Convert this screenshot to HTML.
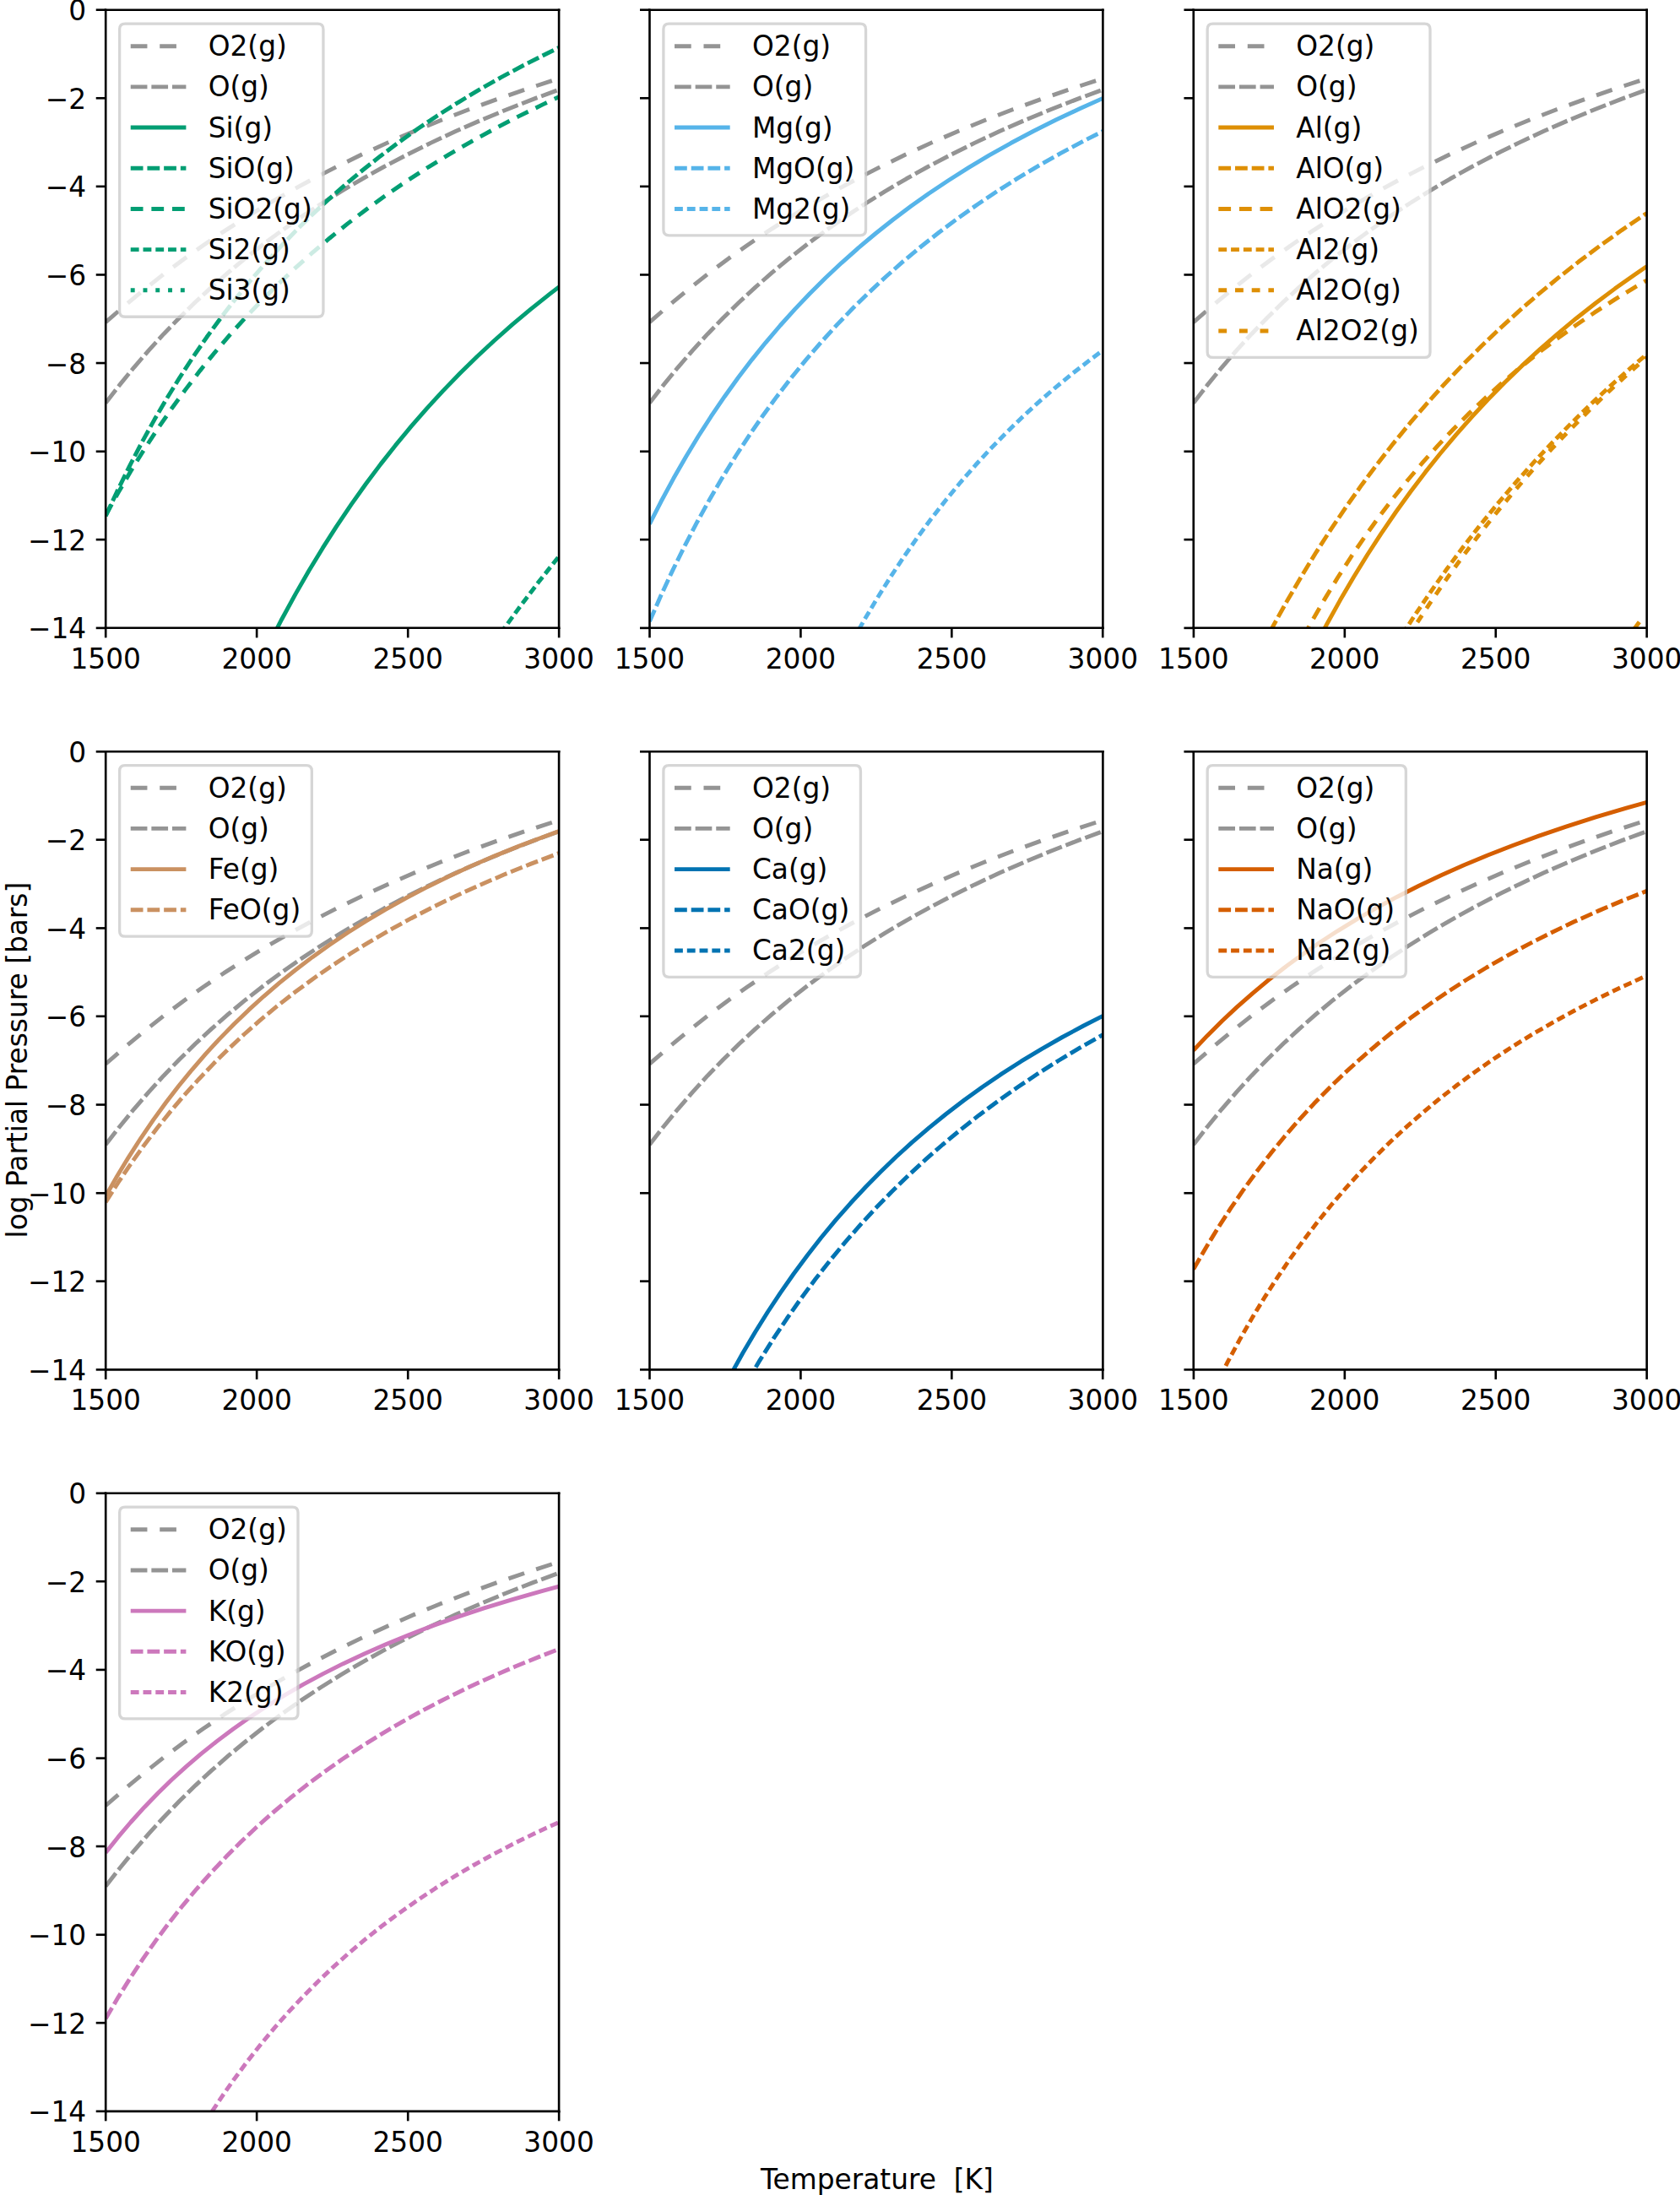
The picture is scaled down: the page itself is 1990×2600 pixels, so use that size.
<!DOCTYPE html>
<html><head><meta charset="utf-8"><title>Partial pressures</title>
<style>html,body{margin:0;padding:0;background:#fff;}svg{display:block;}text{white-space:pre;}</style>
</head><body>
<svg width="1990" height="2600" viewBox="0 0 606.184615 792">
  <defs>
  <style type="text/css">*{stroke-linejoin: round; stroke-linecap: butt}</style>
 </defs>
 <g id="figure_1">
  <g id="patch_1">
   <path d="M 0 792 L 606.184615 792 L 606.184615 0 L 0 0 z
" style="fill: #ffffff"/>
  </g>
  <g id="axes_1">
   <g id="patch_2">
    <path d="M 38.137846 226.572923 L 201.685846 226.572923 L 201.685846 3.564 L 38.137846 3.564 z
" style="fill: #ffffff"/>
   </g>
   <g id="matplotlib.axis_1">
    <g id="xtick_1">
     <g id="line2d_1">
            <g>
       <path d="M 38.14 226.6 L 38.14 230.1" style="stroke: #000000; stroke-width: 0.8"/>
      </g>
     </g>
     <g id="text_1">
      <text style="font-size: 10px; font-family: 'DejaVu Sans'; text-anchor: middle" x="38.137846" y="241.171361" transform="rotate(-0 38.137846 241.171361)">1500</text>
     </g>
    </g>
    <g id="xtick_2">
     <g id="line2d_2">
      <g>
       <path d="M 92.65 226.6 L 92.65 230.1" style="stroke: #000000; stroke-width: 0.8"/>
      </g>
     </g>
     <g id="text_2">
      <text style="font-size: 10px; font-family: 'DejaVu Sans'; text-anchor: middle" x="92.653846" y="241.171361" transform="rotate(-0 92.653846 241.171361)">2000</text>
     </g>
    </g>
    <g id="xtick_3">
     <g id="line2d_3">
      <g>
       <path d="M 147.2 226.6 L 147.2 230.1" style="stroke: #000000; stroke-width: 0.8"/>
      </g>
     </g>
     <g id="text_3">
      <text style="font-size: 10px; font-family: 'DejaVu Sans'; text-anchor: middle" x="147.169846" y="241.171361" transform="rotate(-0 147.169846 241.171361)">2500</text>
     </g>
    </g>
    <g id="xtick_4">
     <g id="line2d_4">
      <g>
       <path d="M 201.7 226.6 L 201.7 230.1" style="stroke: #000000; stroke-width: 0.8"/>
      </g>
     </g>
     <g id="text_4">
      <text style="font-size: 10px; font-family: 'DejaVu Sans'; text-anchor: middle" x="201.685846" y="241.171361" transform="rotate(-0 201.685846 241.171361)">3000</text>
     </g>
    </g>
   </g>
   <g id="matplotlib.axis_2">
    <g id="ytick_1">
     <g id="line2d_5">
            <g>
       <path d="M 38.14 226.6 L 34.64 226.6" style="stroke: #000000; stroke-width: 0.8"/>
      </g>
     </g>
     <g id="text_5">
      <text style="font-size: 10px; font-family: 'DejaVu Sans'; text-anchor: end" x="31.137846" y="230.372142" transform="rotate(-0 31.137846 230.372142)">−14</text>
     </g>
    </g>
    <g id="ytick_2">
     <g id="line2d_6">
      <g>
       <path d="M 38.14 194.7 L 34.64 194.7" style="stroke: #000000; stroke-width: 0.8"/>
      </g>
     </g>
     <g id="text_6">
      <text style="font-size: 10px; font-family: 'DejaVu Sans'; text-anchor: end" x="31.137846" y="198.513724" transform="rotate(-0 31.137846 198.513724)">−12</text>
     </g>
    </g>
    <g id="ytick_3">
     <g id="line2d_7">
      <g>
       <path d="M 38.14 162.9 L 34.64 162.9" style="stroke: #000000; stroke-width: 0.8"/>
      </g>
     </g>
     <g id="text_7">
      <text style="font-size: 10px; font-family: 'DejaVu Sans'; text-anchor: end" x="31.137846" y="166.655307" transform="rotate(-0 31.137846 166.655307)">−10</text>
     </g>
    </g>
    <g id="ytick_4">
     <g id="line2d_8">
      <g>
       <path d="M 38.14 131 L 34.64 131" style="stroke: #000000; stroke-width: 0.8"/>
      </g>
     </g>
     <g id="text_8">
      <text style="font-size: 10px; font-family: 'DejaVu Sans'; text-anchor: end" x="31.137846" y="134.796889" transform="rotate(-0 31.137846 134.796889)">−8</text>
     </g>
    </g>
    <g id="ytick_5">
     <g id="line2d_9">
      <g>
       <path d="M 38.14 99.14 L 34.64 99.14" style="stroke: #000000; stroke-width: 0.8"/>
      </g>
     </g>
     <g id="text_9">
      <text style="font-size: 10px; font-family: 'DejaVu Sans'; text-anchor: end" x="31.137846" y="102.938471" transform="rotate(-0 31.137846 102.938471)">−6</text>
     </g>
    </g>
    <g id="ytick_6">
     <g id="line2d_10">
      <g>
       <path d="M 38.14 67.28 L 34.64 67.28" style="stroke: #000000; stroke-width: 0.8"/>
      </g>
     </g>
     <g id="text_10">
      <text style="font-size: 10px; font-family: 'DejaVu Sans'; text-anchor: end" x="31.137846" y="71.080054" transform="rotate(-0 31.137846 71.080054)">−4</text>
     </g>
    </g>
    <g id="ytick_7">
     <g id="line2d_11">
      <g>
       <path d="M 38.14 35.42 L 34.64 35.42" style="stroke: #000000; stroke-width: 0.8"/>
      </g>
     </g>
     <g id="text_11">
      <text style="font-size: 10px; font-family: 'DejaVu Sans'; text-anchor: end" x="31.137846" y="39.221636" transform="rotate(-0 31.137846 39.221636)">−2</text>
     </g>
    </g>
    <g id="ytick_8">
     <g id="line2d_12">
      <g>
       <path d="M 38.14 3.564 L 34.64 3.564" style="stroke: #000000; stroke-width: 0.8"/>
      </g>
     </g>
     <g id="text_12">
      <text style="font-size: 10px; font-family: 'DejaVu Sans'; text-anchor: end" x="31.137846" y="7.363219" transform="rotate(-0 31.137846 7.363219)">0</text>
     </g>
    </g>
   </g>
   <g id="line2d_13">
    <path d="M 38.137846 116.271095 L 45.106057 110.198701 L 52.074267 104.427551 L 59.042478 98.94265 L 66.010688 93.728501 L 73.388794 88.485575 L 80.766899 83.510994 L 88.554899 78.532271 L 96.342899 73.814441 L 104.540794 69.110584 L 112.738688 64.656757 L 121.346478 60.229835 L 130.364162 55.846032 L 139.791741 51.519507 L 149.21932 47.434842 L 159.056794 43.410165 L 169.304162 39.455331 L 179.961425 35.578606 L 191.028583 31.786788 L 201.685846 28.342352 L 201.685846 28.342352 " clip-path="url(#p9adae56d40)" style="fill: none; stroke-dasharray: 6,4.5; stroke-dashoffset: 0; stroke: #949494; stroke-width: 1.5"/>
   </g>
   <g id="line2d_14">
    <path d="M 38.137846 145.396931 L 43.056583 139.032866 L 48.385215 132.514699 L 53.713846 126.35645 L 59.042478 120.529272 L 64.781004 114.594498 L 70.51953 108.984803 L 76.258057 103.674308 L 82.406478 98.290184 L 88.554899 93.197312 L 95.113215 88.060154 L 101.67153 83.203414 L 108.639741 78.325505 L 115.607951 73.71514 L 122.986057 69.101483 L 130.774057 64.505945 L 138.562057 60.16895 L 146.759951 55.859763 L 155.367741 51.59415 L 164.385425 47.385777 L 173.403109 43.421079 L 182.830688 39.514449 L 192.668162 35.675483 L 201.685846 32.351805 L 201.685846 32.351805 " clip-path="url(#p9adae56d40)" style="fill: none; stroke-dasharray: 6,1.5; stroke-dashoffset: 0; stroke: #949494; stroke-width: 1.5"/>
   </g>
   <g id="line2d_15">
    <path d="M 38.137846 407.383241 L 41.826899 391.593612 L 45.515951 376.691662 L 49.614899 361.091298 L 53.713846 346.416745 L 57.812794 332.591969 L 61.911741 319.548782 L 66.010688 307.225874 L 70.109636 295.567989 L 74.208583 284.525211 L 78.717425 273.034793 L 83.226267 262.179726 L 87.735109 251.911075 L 92.243951 242.184656 L 96.752794 232.960488 L 101.67153 223.428063 L 106.590267 214.407671 L 111.509004 205.860845 L 116.427741 197.75277 L 121.346478 190.05187 L 126.675109 182.135494 L 132.003741 174.630238 L 137.332372 167.506119 L 142.661004 160.735925 L 148.39953 153.812421 L 154.138057 147.242646 L 159.876583 141.001146 L 166.025004 134.651875 L 172.173425 128.62711 L 178.321846 122.903445 L 184.880162 117.106165 L 191.438478 111.603894 L 198.406688 106.057263 L 201.685846 103.547379 L 201.685846 103.547379 " clip-path="url(#p9adae56d40)" style="fill: none; stroke: #029e73; stroke-width: 1.5"/>
   </g>
   <g id="line2d_16">
    <path d="M 38.137846 186.195813 L 42.236794 177.346958 L 46.745636 168.164099 L 51.254478 159.510641 L 55.76332 151.342641 L 60.272162 143.620843 L 64.781004 136.310075 L 69.699741 128.766418 L 74.618478 121.637565 L 79.537215 114.890572 L 84.865846 107.978019 L 90.194478 101.445252 L 95.523109 95.262102 L 100.851741 89.401488 L 106.590267 83.422858 L 112.328794 77.762689 L 118.477215 72.023745 L 124.625636 66.595077 L 130.774057 61.452378 L 137.332372 56.257453 L 143.890688 51.33924 L 150.858899 46.39295 L 157.827109 41.711906 L 165.205215 37.021708 L 172.993215 32.344222 L 180.781215 27.924735 L 188.979109 23.528694 L 197.586899 19.172377 L 201.685846 17.184969 L 201.685846 17.184969 " clip-path="url(#p9adae56d40)" style="fill: none; stroke-dasharray: 4.5,1.5; stroke-dashoffset: 0; stroke: #029e73; stroke-width: 1.5"/>
   </g>
   <g id="line2d_17">
    <path d="M 38.137846 185.893796 L 42.646688 177.759513 L 47.15553 170.054096 L 52.074267 162.098568 L 56.993004 154.575731 L 61.911741 147.451222 L 66.830478 140.694222 L 72.159109 133.756779 L 77.487741 127.186502 L 82.816372 120.954997 L 88.554899 114.593767 L 94.293425 108.56718 L 100.031951 102.849508 L 106.180372 97.03997 L 112.328794 91.532882 L 118.887109 85.966132 L 125.445425 80.692253 L 132.413636 75.384507 L 139.381846 70.357753 L 146.759951 65.317458 L 154.138057 60.544696 L 161.926057 55.774128 L 170.123951 51.025534 L 178.321846 46.534585 L 186.929636 42.074072 L 195.94732 37.658689 L 201.685846 34.976259 L 201.685846 34.976259 " clip-path="url(#p9adae56d40)" style="fill: none; stroke-dasharray: 4.5,3; stroke-dashoffset: 0; stroke: #029e73; stroke-width: 1.5"/>
   </g>
   <g id="line2d_18">
    <path d="M 38.137846 604.702939 L 42.646688 583.026828 L 47.15553 562.483435 L 51.664372 542.986234 L 56.173215 524.45729 L 60.682057 506.826226 L 65.190899 490.029319 L 70.109636 472.588962 L 75.028372 456.004575 L 79.947109 440.214648 L 84.865846 425.163432 L 89.784583 410.800272 L 94.70332 397.07904 L 100.031951 382.890039 L 105.360583 369.356303 L 110.689215 356.433465 L 116.017846 344.081075 L 121.346478 332.262176 L 127.085004 320.092017 L 132.82353 308.462753 L 138.562057 297.33911 L 144.300583 286.688813 L 150.039109 276.482278 L 156.18753 266.008324 L 162.335951 255.981974 L 168.484372 246.375137 L 174.632794 237.162023 L 181.191109 227.741983 L 187.749425 218.7165 L 194.307741 210.061293 L 201.275951 201.245905 L 201.685846 200.739049 L 201.685846 200.739049 " clip-path="url(#p9adae56d40)" style="fill: none; stroke-dasharray: 3,1.5; stroke-dashoffset: 0; stroke: #029e73; stroke-width: 1.5"/>
   </g>
   <g id="line2d_19">
    <path d="M 38.137846 640.732352 L 201.685846 640.732352 L 201.685846 640.732352 " clip-path="url(#p9adae56d40)" style="fill: none; stroke-dasharray: 1.5,3; stroke-dashoffset: 0; stroke: #029e73; stroke-width: 1.5"/>
   </g>
   <g id="patch_3">
    <path d="M 38.137846 226.572923 L 38.137846 3.564 " style="fill: none; stroke: #000000; stroke-width: 0.8; stroke-linejoin: miter; stroke-linecap: square"/>
   </g>
   <g id="patch_4">
    <path d="M 201.685846 226.572923 L 201.685846 3.564 " style="fill: none; stroke: #000000; stroke-width: 0.8; stroke-linejoin: miter; stroke-linecap: square"/>
   </g>
   <g id="patch_5">
    <path d="M 38.137846 226.572923 L 201.685846 226.572923 " style="fill: none; stroke: #000000; stroke-width: 0.8; stroke-linejoin: miter; stroke-linecap: square"/>
   </g>
   <g id="patch_6">
    <path d="M 38.137846 3.564 L 201.685846 3.564 " style="fill: none; stroke: #000000; stroke-width: 0.8; stroke-linejoin: miter; stroke-linecap: square"/>
   </g>
   <g id="legend_1">
    <g id="patch_7">
     <path d="M 45.137846 114.310875 L 114.650346 114.310875 Q 116.650346 114.310875 116.650346 112.310875 L 116.650346 10.564 Q 116.650346 8.564 114.650346 8.564 L 45.137846 8.564 Q 43.137846 8.564 43.137846 10.564 L 43.137846 112.310875 Q 43.137846 114.310875 45.137846 114.310875 z
" style="fill: #ffffff; opacity: 0.8; stroke: #cccccc; stroke-linejoin: miter"/>
    </g>
    <g id="line2d_20">
     <path d="M 47.137846 16.662438 L 57.137846 16.662438 L 67.137846 16.662438 " style="fill: none; stroke-dasharray: 6,4.5; stroke-dashoffset: 0; stroke: #949494; stroke-width: 1.5"/>
    </g>
    <g id="text_13">
     <text style="font-size: 10px; font-family: 'DejaVu Sans'; text-anchor: start" x="75.137846" y="20.162438" transform="rotate(-0 75.137846 20.162438)">O2(g)</text>
    </g>
    <g id="line2d_21">
     <path d="M 47.137846 31.340563 L 57.137846 31.340563 L 67.137846 31.340563 " style="fill: none; stroke-dasharray: 6,1.5; stroke-dashoffset: 0; stroke: #949494; stroke-width: 1.5"/>
    </g>
    <g id="text_14">
     <text style="font-size: 10px; font-family: 'DejaVu Sans'; text-anchor: start" x="75.137846" y="34.840563" transform="rotate(-0 75.137846 34.840563)">O(g)</text>
    </g>
    <g id="line2d_22">
     <path d="M 47.137846 46.018688 L 57.137846 46.018688 L 67.137846 46.018688 " style="fill: none; stroke: #029e73; stroke-width: 1.5"/>
    </g>
    <g id="text_15">
     <text style="font-size: 10px; font-family: 'DejaVu Sans'; text-anchor: start" x="75.137846" y="49.518688" transform="rotate(-0 75.137846 49.518688)">Si(g)</text>
    </g>
    <g id="line2d_23">
     <path d="M 47.137846 60.696813 L 57.137846 60.696813 L 67.137846 60.696813 " style="fill: none; stroke-dasharray: 4.5,1.5; stroke-dashoffset: 0; stroke: #029e73; stroke-width: 1.5"/>
    </g>
    <g id="text_16">
     <text style="font-size: 10px; font-family: 'DejaVu Sans'; text-anchor: start" x="75.137846" y="64.196813" transform="rotate(-0 75.137846 64.196813)">SiO(g)</text>
    </g>
    <g id="line2d_24">
     <path d="M 47.137846 75.374938 L 57.137846 75.374938 L 67.137846 75.374938 " style="fill: none; stroke-dasharray: 4.5,3; stroke-dashoffset: 0; stroke: #029e73; stroke-width: 1.5"/>
    </g>
    <g id="text_17">
     <text style="font-size: 10px; font-family: 'DejaVu Sans'; text-anchor: start" x="75.137846" y="78.874938" transform="rotate(-0 75.137846 78.874938)">SiO2(g)</text>
    </g>
    <g id="line2d_25">
     <path d="M 47.137846 90.053063 L 57.137846 90.053063 L 67.137846 90.053063 " style="fill: none; stroke-dasharray: 3,1.5; stroke-dashoffset: 0; stroke: #029e73; stroke-width: 1.5"/>
    </g>
    <g id="text_18">
     <text style="font-size: 10px; font-family: 'DejaVu Sans'; text-anchor: start" x="75.137846" y="93.553063" transform="rotate(-0 75.137846 93.553063)">Si2(g)</text>
    </g>
    <g id="line2d_26">
     <path d="M 47.137846 104.731188 L 57.137846 104.731188 L 67.137846 104.731188 " style="fill: none; stroke-dasharray: 1.5,3; stroke-dashoffset: 0; stroke: #029e73; stroke-width: 1.5"/>
    </g>
    <g id="text_19">
     <text style="font-size: 10px; font-family: 'DejaVu Sans'; text-anchor: start" x="75.137846" y="108.231188" transform="rotate(-0 75.137846 108.231188)">Si3(g)</text>
    </g>
   </g>
  </g>
  <g id="axes_2">
   <g id="patch_8">
    <path d="M 234.395446 226.572923 L 397.943446 226.572923 L 397.943446 3.564 L 234.395446 3.564 z
" style="fill: #ffffff"/>
   </g>
   <g id="matplotlib.axis_3">
    <g id="xtick_5">
     <g id="line2d_27">
      <g>
       <path d="M 234.4 226.6 L 234.4 230.1" style="stroke: #000000; stroke-width: 0.8"/>
      </g>
     </g>
     <g id="text_20">
      <text style="font-size: 10px; font-family: 'DejaVu Sans'; text-anchor: middle" x="234.395446" y="241.171361" transform="rotate(-0 234.395446 241.171361)">1500</text>
     </g>
    </g>
    <g id="xtick_6">
     <g id="line2d_28">
      <g>
       <path d="M 288.9 226.6 L 288.9 230.1" style="stroke: #000000; stroke-width: 0.8"/>
      </g>
     </g>
     <g id="text_21">
      <text style="font-size: 10px; font-family: 'DejaVu Sans'; text-anchor: middle" x="288.911446" y="241.171361" transform="rotate(-0 288.911446 241.171361)">2000</text>
     </g>
    </g>
    <g id="xtick_7">
     <g id="line2d_29">
      <g>
       <path d="M 343.4 226.6 L 343.4 230.1" style="stroke: #000000; stroke-width: 0.8"/>
      </g>
     </g>
     <g id="text_22">
      <text style="font-size: 10px; font-family: 'DejaVu Sans'; text-anchor: middle" x="343.427446" y="241.171361" transform="rotate(-0 343.427446 241.171361)">2500</text>
     </g>
    </g>
    <g id="xtick_8">
     <g id="line2d_30">
      <g>
       <path d="M 397.9 226.6 L 397.9 230.1" style="stroke: #000000; stroke-width: 0.8"/>
      </g>
     </g>
     <g id="text_23">
      <text style="font-size: 10px; font-family: 'DejaVu Sans'; text-anchor: middle" x="397.943446" y="241.171361" transform="rotate(-0 397.943446 241.171361)">3000</text>
     </g>
    </g>
   </g>
   <g id="matplotlib.axis_4">
    <g id="ytick_9">
     <g id="line2d_31">
      <g>
       <path d="M 234.4 226.6 L 230.9 226.6" style="stroke: #000000; stroke-width: 0.8"/>
      </g>
     </g>
    </g>
    <g id="ytick_10">
     <g id="line2d_32">
      <g>
       <path d="M 234.4 194.7 L 230.9 194.7" style="stroke: #000000; stroke-width: 0.8"/>
      </g>
     </g>
    </g>
    <g id="ytick_11">
     <g id="line2d_33">
      <g>
       <path d="M 234.4 162.9 L 230.9 162.9" style="stroke: #000000; stroke-width: 0.8"/>
      </g>
     </g>
    </g>
    <g id="ytick_12">
     <g id="line2d_34">
      <g>
       <path d="M 234.4 131 L 230.9 131" style="stroke: #000000; stroke-width: 0.8"/>
      </g>
     </g>
    </g>
    <g id="ytick_13">
     <g id="line2d_35">
      <g>
       <path d="M 234.4 99.14 L 230.9 99.14" style="stroke: #000000; stroke-width: 0.8"/>
      </g>
     </g>
    </g>
    <g id="ytick_14">
     <g id="line2d_36">
      <g>
       <path d="M 234.4 67.28 L 230.9 67.28" style="stroke: #000000; stroke-width: 0.8"/>
      </g>
     </g>
    </g>
    <g id="ytick_15">
     <g id="line2d_37">
      <g>
       <path d="M 234.4 35.42 L 230.9 35.42" style="stroke: #000000; stroke-width: 0.8"/>
      </g>
     </g>
    </g>
    <g id="ytick_16">
     <g id="line2d_38">
      <g>
       <path d="M 234.4 3.564 L 230.9 3.564" style="stroke: #000000; stroke-width: 0.8"/>
      </g>
     </g>
    </g>
   </g>
   <g id="line2d_39">
    <path d="M 234.395446 116.271095 L 241.363657 110.198701 L 248.331867 104.427551 L 255.300078 98.94265 L 262.268288 93.728501 L 269.646394 88.485575 L 277.024499 83.510994 L 284.812499 78.532271 L 292.600499 73.814441 L 300.798394 69.110584 L 308.996288 64.656757 L 317.604078 60.229835 L 326.621762 55.846032 L 336.049341 51.519507 L 345.47692 47.434842 L 355.314394 43.410165 L 365.561762 39.455331 L 376.219025 35.578606 L 387.286183 31.786788 L 397.943446 28.342352 L 397.943446 28.342352 " clip-path="url(#p2d5f1d068a)" style="fill: none; stroke-dasharray: 6,4.5; stroke-dashoffset: 0; stroke: #949494; stroke-width: 1.5"/>
   </g>
   <g id="line2d_40">
    <path d="M 234.395446 145.396931 L 239.314183 139.032866 L 244.642815 132.514699 L 249.971446 126.35645 L 255.300078 120.529272 L 261.038604 114.594498 L 266.77713 108.984803 L 272.515657 103.674308 L 278.664078 98.290184 L 284.812499 93.197312 L 291.370815 88.060154 L 297.92913 83.203414 L 304.897341 78.325505 L 311.865551 73.71514 L 319.243657 69.101483 L 327.031657 64.505945 L 334.819657 60.16895 L 343.017551 55.859763 L 351.625341 51.59415 L 360.643025 47.385777 L 369.660709 43.421079 L 379.088288 39.514449 L 388.925762 35.675483 L 397.943446 32.351805 L 397.943446 32.351805 " clip-path="url(#p2d5f1d068a)" style="fill: none; stroke-dasharray: 6,1.5; stroke-dashoffset: 0; stroke: #949494; stroke-width: 1.5"/>
   </g>
   <g id="line2d_41">
    <path d="M 234.395446 189.081007 L 238.494394 181.021313 L 243.003236 172.659183 L 247.512078 164.780831 L 252.02092 157.345991 L 256.529762 150.318705 L 261.448499 143.079624 L 266.367236 136.24989 L 271.285972 129.796127 L 276.204709 123.688461 L 281.533341 117.431343 L 286.861972 111.51841 L 292.190604 105.922301 L 297.92913 100.221931 L 303.667657 94.83306 L 309.816078 89.37701 L 315.964499 84.223206 L 322.11292 79.347418 L 328.671236 74.428576 L 335.229551 69.777735 L 342.197762 65.106236 L 349.575867 60.438488 L 356.953972 56.033668 L 364.741972 51.645701 L 372.939867 47.292752 L 381.137762 43.189649 L 389.745551 39.127576 L 397.943446 35.474116 L 397.943446 35.474116 " clip-path="url(#p2d5f1d068a)" style="fill: none; stroke: #56b4e9; stroke-width: 1.5"/>
   </g>
   <g id="line2d_42">
    <path d="M 234.395446 224.179426 L 238.494394 214.851599 L 242.593341 206.034098 L 247.102183 196.8765 L 251.611025 188.240135 L 256.119867 180.082362 L 260.628709 172.365017 L 265.547446 164.408245 L 270.466183 156.895073 L 275.38492 149.789872 L 280.303657 143.060695 L 285.632288 136.161833 L 290.96092 129.637807 L 296.289551 123.459211 L 302.028078 117.161386 L 307.766604 111.203913 L 313.50513 105.560202 L 319.653551 99.834431 L 325.801972 94.415 L 332.360288 88.945246 L 338.918604 83.77125 L 345.47692 78.869855 L 352.44513 73.937567 L 359.823236 69.000089 L 367.201341 64.332323 L 374.989341 59.674282 L 382.777341 55.270505 L 390.975236 50.887545 L 397.943446 47.35026 L 397.943446 47.35026 " clip-path="url(#p2d5f1d068a)" style="fill: none; stroke-dasharray: 4.5,1.5; stroke-dashoffset: 0; stroke: #56b4e9; stroke-width: 1.5"/>
   </g>
   <g id="line2d_43">
    <path d="M 234.395446 461.83172 L 238.084499 442.893788 L 241.773551 425.131131 L 245.462604 408.447062 L 249.151657 392.754692 L 252.840709 377.975763 L 256.529762 364.039635 L 260.628709 349.466005 L 264.727657 335.775081 L 268.826604 322.895827 L 272.925551 310.764259 L 277.024499 299.32262 L 281.123446 288.518661 L 285.222394 278.305023 L 289.321341 268.638695 L 293.830183 258.591275 L 298.339025 249.111544 L 302.847867 240.156718 L 307.356709 231.688 L 311.865551 223.670141 L 316.374394 216.071056 L 321.29313 208.224444 L 326.211867 200.806871 L 331.130604 193.786965 L 336.049341 187.136191 L 341.377972 180.317645 L 346.706604 173.871786 L 352.035236 167.771331 L 357.363867 161.991472 L 363.102394 156.09967 L 368.84092 150.527832 L 374.579446 145.252649 L 380.727867 139.905812 L 386.876288 134.851514 L 393.434604 129.758525 L 397.943446 126.423623 L 397.943446 126.423623 " clip-path="url(#p2d5f1d068a)" style="fill: none; stroke-dasharray: 3,1.5; stroke-dashoffset: 0; stroke: #56b4e9; stroke-width: 1.5"/>
   </g>
   <g id="patch_9">
    <path d="M 234.395446 226.572923 L 234.395446 3.564 " style="fill: none; stroke: #000000; stroke-width: 0.8; stroke-linejoin: miter; stroke-linecap: square"/>
   </g>
   <g id="patch_10">
    <path d="M 397.943446 226.572923 L 397.943446 3.564 " style="fill: none; stroke: #000000; stroke-width: 0.8; stroke-linejoin: miter; stroke-linecap: square"/>
   </g>
   <g id="patch_11">
    <path d="M 234.395446 226.572923 L 397.943446 226.572923 " style="fill: none; stroke: #000000; stroke-width: 0.8; stroke-linejoin: miter; stroke-linecap: square"/>
   </g>
   <g id="patch_12">
    <path d="M 234.395446 3.564 L 397.943446 3.564 " style="fill: none; stroke: #000000; stroke-width: 0.8; stroke-linejoin: miter; stroke-linecap: square"/>
   </g>
   <g id="legend_2">
    <g id="patch_13">
     <path d="M 241.395446 84.954625 L 310.395446 84.954625 Q 312.395446 84.954625 312.395446 82.954625 L 312.395446 10.564 Q 312.395446 8.564 310.395446 8.564 L 241.395446 8.564 Q 239.395446 8.564 239.395446 10.564 L 239.395446 82.954625 Q 239.395446 84.954625 241.395446 84.954625 z
" style="fill: #ffffff; opacity: 0.8; stroke: #cccccc; stroke-linejoin: miter"/>
    </g>
    <g id="line2d_44">
     <path d="M 243.395446 16.662438 L 253.395446 16.662438 L 263.395446 16.662438 " style="fill: none; stroke-dasharray: 6,4.5; stroke-dashoffset: 0; stroke: #949494; stroke-width: 1.5"/>
    </g>
    <g id="text_24">
     <text style="font-size: 10px; font-family: 'DejaVu Sans'; text-anchor: start" x="271.395446" y="20.162438" transform="rotate(-0 271.395446 20.162438)">O2(g)</text>
    </g>
    <g id="line2d_45">
     <path d="M 243.395446 31.340563 L 253.395446 31.340563 L 263.395446 31.340563 " style="fill: none; stroke-dasharray: 6,1.5; stroke-dashoffset: 0; stroke: #949494; stroke-width: 1.5"/>
    </g>
    <g id="text_25">
     <text style="font-size: 10px; font-family: 'DejaVu Sans'; text-anchor: start" x="271.395446" y="34.840563" transform="rotate(-0 271.395446 34.840563)">O(g)</text>
    </g>
    <g id="line2d_46">
     <path d="M 243.395446 46.018688 L 253.395446 46.018688 L 263.395446 46.018688 " style="fill: none; stroke: #56b4e9; stroke-width: 1.5"/>
    </g>
    <g id="text_26">
     <text style="font-size: 10px; font-family: 'DejaVu Sans'; text-anchor: start" x="271.395446" y="49.518688" transform="rotate(-0 271.395446 49.518688)">Mg(g)</text>
    </g>
    <g id="line2d_47">
     <path d="M 243.395446 60.696813 L 253.395446 60.696813 L 263.395446 60.696813 " style="fill: none; stroke-dasharray: 4.5,1.5; stroke-dashoffset: 0; stroke: #56b4e9; stroke-width: 1.5"/>
    </g>
    <g id="text_27">
     <text style="font-size: 10px; font-family: 'DejaVu Sans'; text-anchor: start" x="271.395446" y="64.196813" transform="rotate(-0 271.395446 64.196813)">MgO(g)</text>
    </g>
    <g id="line2d_48">
     <path d="M 243.395446 75.374938 L 253.395446 75.374938 L 263.395446 75.374938 " style="fill: none; stroke-dasharray: 3,1.5; stroke-dashoffset: 0; stroke: #56b4e9; stroke-width: 1.5"/>
    </g>
    <g id="text_28">
     <text style="font-size: 10px; font-family: 'DejaVu Sans'; text-anchor: start" x="271.395446" y="78.874938" transform="rotate(-0 271.395446 78.874938)">Mg2(g)</text>
    </g>
   </g>
  </g>
  <g id="axes_3">
   <g id="patch_14">
    <path d="M 430.653046 226.572923 L 594.201046 226.572923 L 594.201046 3.564 L 430.653046 3.564 z
" style="fill: #ffffff"/>
   </g>
   <g id="matplotlib.axis_5">
    <g id="xtick_9">
     <g id="line2d_49">
      <g>
       <path d="M 430.7 226.6 L 430.7 230.1" style="stroke: #000000; stroke-width: 0.8"/>
      </g>
     </g>
     <g id="text_29">
      <text style="font-size: 10px; font-family: 'DejaVu Sans'; text-anchor: middle" x="430.653046" y="241.171361" transform="rotate(-0 430.653046 241.171361)">1500</text>
     </g>
    </g>
    <g id="xtick_10">
     <g id="line2d_50">
      <g>
       <path d="M 485.2 226.6 L 485.2 230.1" style="stroke: #000000; stroke-width: 0.8"/>
      </g>
     </g>
     <g id="text_30">
      <text style="font-size: 10px; font-family: 'DejaVu Sans'; text-anchor: middle" x="485.169046" y="241.171361" transform="rotate(-0 485.169046 241.171361)">2000</text>
     </g>
    </g>
    <g id="xtick_11">
     <g id="line2d_51">
      <g>
       <path d="M 539.7 226.6 L 539.7 230.1" style="stroke: #000000; stroke-width: 0.8"/>
      </g>
     </g>
     <g id="text_31">
      <text style="font-size: 10px; font-family: 'DejaVu Sans'; text-anchor: middle" x="539.685046" y="241.171361" transform="rotate(-0 539.685046 241.171361)">2500</text>
     </g>
    </g>
    <g id="xtick_12">
     <g id="line2d_52">
      <g>
       <path d="M 594.2 226.6 L 594.2 230.1" style="stroke: #000000; stroke-width: 0.8"/>
      </g>
     </g>
     <g id="text_32">
      <text style="font-size: 10px; font-family: 'DejaVu Sans'; text-anchor: middle" x="594.201046" y="241.171361" transform="rotate(-0 594.201046 241.171361)">3000</text>
     </g>
    </g>
   </g>
   <g id="matplotlib.axis_6">
    <g id="ytick_17">
     <g id="line2d_53">
      <g>
       <path d="M 430.7 226.6 L 427.2 226.6" style="stroke: #000000; stroke-width: 0.8"/>
      </g>
     </g>
    </g>
    <g id="ytick_18">
     <g id="line2d_54">
      <g>
       <path d="M 430.7 194.7 L 427.2 194.7" style="stroke: #000000; stroke-width: 0.8"/>
      </g>
     </g>
    </g>
    <g id="ytick_19">
     <g id="line2d_55">
      <g>
       <path d="M 430.7 162.9 L 427.2 162.9" style="stroke: #000000; stroke-width: 0.8"/>
      </g>
     </g>
    </g>
    <g id="ytick_20">
     <g id="line2d_56">
      <g>
       <path d="M 430.7 131 L 427.2 131" style="stroke: #000000; stroke-width: 0.8"/>
      </g>
     </g>
    </g>
    <g id="ytick_21">
     <g id="line2d_57">
      <g>
       <path d="M 430.7 99.14 L 427.2 99.14" style="stroke: #000000; stroke-width: 0.8"/>
      </g>
     </g>
    </g>
    <g id="ytick_22">
     <g id="line2d_58">
      <g>
       <path d="M 430.7 67.28 L 427.2 67.28" style="stroke: #000000; stroke-width: 0.8"/>
      </g>
     </g>
    </g>
    <g id="ytick_23">
     <g id="line2d_59">
      <g>
       <path d="M 430.7 35.42 L 427.2 35.42" style="stroke: #000000; stroke-width: 0.8"/>
      </g>
     </g>
    </g>
    <g id="ytick_24">
     <g id="line2d_60">
      <g>
       <path d="M 430.7 3.564 L 427.2 3.564" style="stroke: #000000; stroke-width: 0.8"/>
      </g>
     </g>
    </g>
   </g>
   <g id="line2d_61">
    <path d="M 430.653046 116.271095 L 437.621257 110.198701 L 444.589467 104.427551 L 451.557678 98.94265 L 458.525888 93.728501 L 465.903994 88.485575 L 473.282099 83.510994 L 481.070099 78.532271 L 488.858099 73.814441 L 497.055994 69.110584 L 505.253888 64.656757 L 513.861678 60.229835 L 522.879362 55.846032 L 532.306941 51.519507 L 541.73452 47.434842 L 551.571994 43.410165 L 561.819362 39.455331 L 572.476625 35.578606 L 583.543783 31.786788 L 594.201046 28.342352 L 594.201046 28.342352 " clip-path="url(#pf8652af135)" style="fill: none; stroke-dasharray: 6,4.5; stroke-dashoffset: 0; stroke: #949494; stroke-width: 1.5"/>
   </g>
   <g id="line2d_62">
    <path d="M 430.653046 145.396931 L 435.571783 139.032866 L 440.900415 132.514699 L 446.229046 126.35645 L 451.557678 120.529272 L 457.296204 114.594498 L 463.03473 108.984803 L 468.773257 103.674308 L 474.921678 98.290184 L 481.070099 93.197312 L 487.628415 88.060154 L 494.18673 83.203414 L 501.154941 78.325505 L 508.123151 73.71514 L 515.501257 69.101483 L 523.289257 64.505945 L 531.077257 60.16895 L 539.275151 55.859763 L 547.882941 51.59415 L 556.900625 47.385777 L 565.918309 43.421079 L 575.345888 39.514449 L 585.183362 35.675483 L 594.201046 32.351805 L 594.201046 32.351805 " clip-path="url(#pf8652af135)" style="fill: none; stroke-dasharray: 6,1.5; stroke-dashoffset: 0; stroke: #949494; stroke-width: 1.5"/>
   </g>
   <g id="line2d_63">
    <path d="M 430.653046 347.068423 L 434.751994 333.338799 L 438.850941 320.403846 L 442.949888 308.198477 L 447.048836 296.664383 L 451.147783 285.749186 L 455.656625 274.401134 L 460.165467 263.688548 L 464.674309 253.560869 L 469.183151 243.972666 L 473.691994 234.883009 L 478.61073 225.492272 L 483.529467 216.607663 L 488.448204 208.190274 L 493.366941 200.205018 L 498.285678 192.620179 L 503.614309 184.821866 L 508.942941 177.426755 L 514.271572 170.404999 L 519.600204 163.729585 L 525.33873 156.899943 L 531.077257 150.415849 L 536.815783 144.25221 L 542.964204 137.97811 L 549.112625 132.020435 L 555.670941 125.988548 L 562.229257 120.26544 L 568.787572 114.828378 L 575.755783 109.341932 L 582.723994 104.13285 L 590.102099 98.897251 L 594.201046 96.105107 L 594.201046 96.105107 " clip-path="url(#pf8652af135)" style="fill: none; stroke: #de8f05; stroke-width: 1.5"/>
   </g>
   <g id="line2d_64">
    <path d="M 430.653046 287.805053 L 435.161888 276.754407 L 439.67073 266.253437 L 444.589467 255.377931 L 449.508204 245.062402 L 454.426941 235.264776 L 459.345678 225.947082 L 464.264415 217.074965 L 469.593046 207.930256 L 474.921678 199.23608 L 480.250309 190.959993 L 485.578941 183.07259 L 491.317467 174.982556 L 497.055994 167.282078 L 502.79452 159.943713 L 508.942941 152.454744 L 515.091362 145.32506 L 521.239783 138.529441 L 527.798099 131.623209 L 534.356415 125.045763 L 540.91473 118.77419 L 547.882941 112.42252 L 554.851151 106.369946 L 562.229257 100.264452 L 569.607362 94.448948 L 577.395362 88.60271 L 585.183362 83.03561 L 593.381257 77.455642 L 594.201046 76.912656 L 594.201046 76.912656 " clip-path="url(#pf8652af135)" style="fill: none; stroke-dasharray: 4.5,1.5; stroke-dashoffset: 0; stroke: #de8f05; stroke-width: 1.5"/>
   </g>
   <g id="line2d_65">
    <path d="M 430.653046 326.924148 L 434.751994 314.108893 L 438.850941 302.074983 L 442.949888 290.75619 L 447.048836 280.093356 L 451.147783 270.033487 L 455.24673 260.52899 L 459.755572 250.664482 L 464.264415 241.36898 L 468.773257 232.596593 L 473.282099 224.306106 L 477.790941 216.460408 L 482.709678 208.369476 L 487.628415 200.728911 L 492.547151 193.503506 L 497.465888 186.661544 L 502.79452 179.648965 L 508.123151 173.01998 L 513.451783 166.74503 L 518.780415 160.797446 L 524.518941 154.73085 L 530.257467 148.988779 L 535.995994 143.5467 L 542.144415 138.02365 L 548.292836 132.794923 L 554.851151 127.51704 L 561.409467 122.524498 L 568.377678 117.508153 L 575.345888 112.765676 L 582.723994 108.019194 L 590.102099 103.533351 L 594.201046 101.146269 L 594.201046 101.146269 " clip-path="url(#pf8652af135)" style="fill: none; stroke-dasharray: 4.5,3; stroke-dashoffset: 0; stroke: #de8f05; stroke-width: 1.5"/>
   </g>
   <g id="line2d_66">
    <path d="M 430.653046 401.665082 L 435.161888 386.970069 L 439.67073 373.042966 L 444.179572 359.825113 L 448.688415 347.263678 L 453.197257 335.310947 L 458.115994 322.915176 L 463.03473 311.141787 L 467.953467 299.945054 L 472.872204 289.283623 L 477.790941 279.120002 L 483.119572 268.631737 L 488.448204 258.648462 L 493.776836 249.134563 L 499.105467 240.057699 L 504.843994 230.737662 L 510.58252 221.856952 L 516.321046 213.385223 L 522.059572 205.294858 L 528.207994 197.021239 L 534.356415 189.128309 L 540.504836 181.590383 L 547.063151 173.914868 L 553.621467 166.590736 L 560.179783 159.594398 L 567.147994 152.49591 L 574.116204 145.719649 L 581.084415 139.244163 L 588.46252 132.693855 L 594.201046 127.803469 L 594.201046 127.803469 " clip-path="url(#pf8652af135)" style="fill: none; stroke-dasharray: 3,1.5; stroke-dashoffset: 0; stroke: #de8f05; stroke-width: 1.5"/>
   </g>
   <g id="line2d_67">
    <path d="M 430.653046 411.065439 L 435.161888 395.925265 L 439.67073 381.576265 L 444.179572 367.958 L 448.688415 355.016038 L 453.197257 342.701219 L 458.115994 329.92994 L 463.03473 317.799897 L 467.953467 306.263978 L 472.872204 295.279577 L 477.790941 284.808067 L 483.119572 274.002078 L 488.448204 263.716377 L 493.776836 253.914271 L 499.105467 244.562439 L 504.843994 234.960067 L 510.58252 225.810332 L 516.321046 217.081966 L 522.059572 208.746517 L 528.207994 200.222264 L 534.356415 192.09023 L 540.504836 184.323956 L 546.653257 176.899306 L 553.211572 169.331411 L 559.769888 162.102693 L 566.328204 155.190851 L 573.296415 148.171445 L 580.264625 141.46442 L 587.64273 134.68071 L 594.201046 128.90766 L 594.201046 128.90766 " clip-path="url(#pf8652af135)" style="fill: none; stroke-dasharray: 3,3; stroke-dashoffset: 0; stroke: #de8f05; stroke-width: 1.5"/>
   </g>
   <g id="line2d_68">
    <path d="M 430.653046 651.754834 L 435.161888 628.63112 L 439.67073 606.715771 L 444.179572 585.916481 L 448.688415 566.150113 L 453.197257 547.341587 L 457.706099 529.422926 L 462.624836 510.817845 L 467.543572 493.125896 L 472.462309 476.281466 L 477.381046 460.22508 L 482.299783 444.902699 L 487.21852 430.265118 L 492.547151 415.128529 L 497.875783 400.690964 L 503.204415 386.905096 L 508.533046 373.727772 L 513.861678 361.119568 L 519.190309 349.044393 L 524.928836 336.598561 L 530.667362 324.694694 L 536.405888 313.298145 L 542.144415 302.37716 L 548.292836 291.170756 L 554.441257 280.443941 L 560.589678 270.166574 L 566.738099 260.310986 L 573.296415 250.234627 L 579.85473 240.580866 L 586.413046 231.323666 L 592.971362 222.439083 L 594.201046 220.812887 L 594.201046 220.812887 " clip-path="url(#pf8652af135)" style="fill: none; stroke-dasharray: 3,4.5; stroke-dashoffset: 0; stroke: #de8f05; stroke-width: 1.5"/>
   </g>
   <g id="patch_15">
    <path d="M 430.653046 226.572923 L 430.653046 3.564 " style="fill: none; stroke: #000000; stroke-width: 0.8; stroke-linejoin: miter; stroke-linecap: square"/>
   </g>
   <g id="patch_16">
    <path d="M 594.201046 226.572923 L 594.201046 3.564 " style="fill: none; stroke: #000000; stroke-width: 0.8; stroke-linejoin: miter; stroke-linecap: square"/>
   </g>
   <g id="patch_17">
    <path d="M 430.653046 226.572923 L 594.201046 226.572923 " style="fill: none; stroke: #000000; stroke-width: 0.8; stroke-linejoin: miter; stroke-linecap: square"/>
   </g>
   <g id="patch_18">
    <path d="M 430.653046 3.564 L 594.201046 3.564 " style="fill: none; stroke: #000000; stroke-width: 0.8; stroke-linejoin: miter; stroke-linecap: square"/>
   </g>
   <g id="legend_3">
    <g id="patch_19">
     <path d="M 437.653046 128.989 L 514.020234 128.989 Q 516.020234 128.989 516.020234 126.989 L 516.020234 10.564 Q 516.020234 8.564 514.020234 8.564 L 437.653046 8.564 Q 435.653046 8.564 435.653046 10.564 L 435.653046 126.989 Q 435.653046 128.989 437.653046 128.989 z
" style="fill: #ffffff; opacity: 0.8; stroke: #cccccc; stroke-linejoin: miter"/>
    </g>
    <g id="line2d_69">
     <path d="M 439.653046 16.662438 L 449.653046 16.662438 L 459.653046 16.662438 " style="fill: none; stroke-dasharray: 6,4.5; stroke-dashoffset: 0; stroke: #949494; stroke-width: 1.5"/>
    </g>
    <g id="text_33">
     <text style="font-size: 10px; font-family: 'DejaVu Sans'; text-anchor: start" x="467.653046" y="20.162438" transform="rotate(-0 467.653046 20.162438)">O2(g)</text>
    </g>
    <g id="line2d_70">
     <path d="M 439.653046 31.340563 L 449.653046 31.340563 L 459.653046 31.340563 " style="fill: none; stroke-dasharray: 6,1.5; stroke-dashoffset: 0; stroke: #949494; stroke-width: 1.5"/>
    </g>
    <g id="text_34">
     <text style="font-size: 10px; font-family: 'DejaVu Sans'; text-anchor: start" x="467.653046" y="34.840563" transform="rotate(-0 467.653046 34.840563)">O(g)</text>
    </g>
    <g id="line2d_71">
     <path d="M 439.653046 46.018688 L 449.653046 46.018688 L 459.653046 46.018688 " style="fill: none; stroke: #de8f05; stroke-width: 1.5"/>
    </g>
    <g id="text_35">
     <text style="font-size: 10px; font-family: 'DejaVu Sans'; text-anchor: start" x="467.653046" y="49.518688" transform="rotate(-0 467.653046 49.518688)">Al(g)</text>
    </g>
    <g id="line2d_72">
     <path d="M 439.653046 60.696812 L 449.653046 60.696812 L 459.653046 60.696812 " style="fill: none; stroke-dasharray: 4.5,1.5; stroke-dashoffset: 0; stroke: #de8f05; stroke-width: 1.5"/>
    </g>
    <g id="text_36">
     <text style="font-size: 10px; font-family: 'DejaVu Sans'; text-anchor: start" x="467.653046" y="64.196812" transform="rotate(-0 467.653046 64.196812)">AlO(g)</text>
    </g>
    <g id="line2d_73">
     <path d="M 439.653046 75.374937 L 449.653046 75.374937 L 459.653046 75.374937 " style="fill: none; stroke-dasharray: 4.5,3; stroke-dashoffset: 0; stroke: #de8f05; stroke-width: 1.5"/>
    </g>
    <g id="text_37">
     <text style="font-size: 10px; font-family: 'DejaVu Sans'; text-anchor: start" x="467.653046" y="78.874937" transform="rotate(-0 467.653046 78.874937)">AlO2(g)</text>
    </g>
    <g id="line2d_74">
     <path d="M 439.653046 90.053063 L 449.653046 90.053063 L 459.653046 90.053063 " style="fill: none; stroke-dasharray: 3,1.5; stroke-dashoffset: 0; stroke: #de8f05; stroke-width: 1.5"/>
    </g>
    <g id="text_38">
     <text style="font-size: 10px; font-family: 'DejaVu Sans'; text-anchor: start" x="467.653046" y="93.553063" transform="rotate(-0 467.653046 93.553063)">Al2(g)</text>
    </g>
    <g id="line2d_75">
     <path d="M 439.653046 104.731188 L 449.653046 104.731188 L 459.653046 104.731188 " style="fill: none; stroke-dasharray: 3,3; stroke-dashoffset: 0; stroke: #de8f05; stroke-width: 1.5"/>
    </g>
    <g id="text_39">
     <text style="font-size: 10px; font-family: 'DejaVu Sans'; text-anchor: start" x="467.653046" y="108.231188" transform="rotate(-0 467.653046 108.231188)">Al2O(g)</text>
    </g>
    <g id="line2d_76">
     <path d="M 439.653046 119.409312 L 449.653046 119.409312 L 459.653046 119.409312 " style="fill: none; stroke-dasharray: 3,4.5; stroke-dashoffset: 0; stroke: #de8f05; stroke-width: 1.5"/>
    </g>
    <g id="text_40">
     <text style="font-size: 10px; font-family: 'DejaVu Sans'; text-anchor: start" x="467.653046" y="122.909312" transform="rotate(-0 467.653046 122.909312)">Al2O2(g)</text>
    </g>
   </g>
  </g>
  <g id="axes_4">
   <g id="patch_20">
    <path d="M 38.137846 494.183631 L 201.685846 494.183631 L 201.685846 271.174708 L 38.137846 271.174708 z
" style="fill: #ffffff"/>
   </g>
   <g id="matplotlib.axis_7">
    <g id="xtick_13">
     <g id="line2d_77">
      <g>
       <path d="M 38.14 494.2 L 38.14 497.7" style="stroke: #000000; stroke-width: 0.8"/>
      </g>
     </g>
     <g id="text_41">
      <text style="font-size: 10px; font-family: 'DejaVu Sans'; text-anchor: middle" x="38.137846" y="508.782068" transform="rotate(-0 38.137846 508.782068)">1500</text>
     </g>
    </g>
    <g id="xtick_14">
     <g id="line2d_78">
      <g>
       <path d="M 92.65 494.2 L 92.65 497.7" style="stroke: #000000; stroke-width: 0.8"/>
      </g>
     </g>
     <g id="text_42">
      <text style="font-size: 10px; font-family: 'DejaVu Sans'; text-anchor: middle" x="92.653846" y="508.782068" transform="rotate(-0 92.653846 508.782068)">2000</text>
     </g>
    </g>
    <g id="xtick_15">
     <g id="line2d_79">
      <g>
       <path d="M 147.2 494.2 L 147.2 497.7" style="stroke: #000000; stroke-width: 0.8"/>
      </g>
     </g>
     <g id="text_43">
      <text style="font-size: 10px; font-family: 'DejaVu Sans'; text-anchor: middle" x="147.169846" y="508.782068" transform="rotate(-0 147.169846 508.782068)">2500</text>
     </g>
    </g>
    <g id="xtick_16">
     <g id="line2d_80">
      <g>
       <path d="M 201.7 494.2 L 201.7 497.7" style="stroke: #000000; stroke-width: 0.8"/>
      </g>
     </g>
     <g id="text_44">
      <text style="font-size: 10px; font-family: 'DejaVu Sans'; text-anchor: middle" x="201.685846" y="508.782068" transform="rotate(-0 201.685846 508.782068)">3000</text>
     </g>
    </g>
   </g>
   <g id="matplotlib.axis_8">
    <g id="ytick_25">
     <g id="line2d_81">
      <g>
       <path d="M 38.14 494.2 L 34.64 494.2" style="stroke: #000000; stroke-width: 0.8"/>
      </g>
     </g>
     <g id="text_45">
      <text style="font-size: 10px; font-family: 'DejaVu Sans'; text-anchor: end" x="31.137846" y="497.98285" transform="rotate(-0 31.137846 497.98285)">−14</text>
     </g>
    </g>
    <g id="ytick_26">
     <g id="line2d_82">
      <g>
       <path d="M 38.14 462.3 L 34.64 462.3" style="stroke: #000000; stroke-width: 0.8"/>
      </g>
     </g>
     <g id="text_46">
      <text style="font-size: 10px; font-family: 'DejaVu Sans'; text-anchor: end" x="31.137846" y="466.124432" transform="rotate(-0 31.137846 466.124432)">−12</text>
     </g>
    </g>
    <g id="ytick_27">
     <g id="line2d_83">
      <g>
       <path d="M 38.14 430.5 L 34.64 430.5" style="stroke: #000000; stroke-width: 0.8"/>
      </g>
     </g>
     <g id="text_47">
      <text style="font-size: 10px; font-family: 'DejaVu Sans'; text-anchor: end" x="31.137846" y="434.266014" transform="rotate(-0 31.137846 434.266014)">−10</text>
     </g>
    </g>
    <g id="ytick_28">
     <g id="line2d_84">
      <g>
       <path d="M 38.14 398.6 L 34.64 398.6" style="stroke: #000000; stroke-width: 0.8"/>
      </g>
     </g>
     <g id="text_48">
      <text style="font-size: 10px; font-family: 'DejaVu Sans'; text-anchor: end" x="31.137846" y="402.407597" transform="rotate(-0 31.137846 402.407597)">−8</text>
     </g>
    </g>
    <g id="ytick_29">
     <g id="line2d_85">
      <g>
       <path d="M 38.14 366.7 L 34.64 366.7" style="stroke: #000000; stroke-width: 0.8"/>
      </g>
     </g>
     <g id="text_49">
      <text style="font-size: 10px; font-family: 'DejaVu Sans'; text-anchor: end" x="31.137846" y="370.549179" transform="rotate(-0 31.137846 370.549179)">−6</text>
     </g>
    </g>
    <g id="ytick_30">
     <g id="line2d_86">
      <g>
       <path d="M 38.14 334.9 L 34.64 334.9" style="stroke: #000000; stroke-width: 0.8"/>
      </g>
     </g>
     <g id="text_50">
      <text style="font-size: 10px; font-family: 'DejaVu Sans'; text-anchor: end" x="31.137846" y="338.690762" transform="rotate(-0 31.137846 338.690762)">−4</text>
     </g>
    </g>
    <g id="ytick_31">
     <g id="line2d_87">
      <g>
       <path d="M 38.14 303 L 34.64 303" style="stroke: #000000; stroke-width: 0.8"/>
      </g>
     </g>
     <g id="text_51">
      <text style="font-size: 10px; font-family: 'DejaVu Sans'; text-anchor: end" x="31.137846" y="306.832344" transform="rotate(-0 31.137846 306.832344)">−2</text>
     </g>
    </g>
    <g id="ytick_32">
     <g id="line2d_88">
      <g>
       <path d="M 38.14 271.2 L 34.64 271.2" style="stroke: #000000; stroke-width: 0.8"/>
      </g>
     </g>
     <g id="text_52">
      <text style="font-size: 10px; font-family: 'DejaVu Sans'; text-anchor: end" x="31.137846" y="274.973926" transform="rotate(-0 31.137846 274.973926)">0</text>
     </g>
    </g>
   </g>
   <g id="line2d_89">
    <path d="M 38.137846 383.881803 L 45.106057 377.809409 L 52.074267 372.038259 L 59.042478 366.553358 L 66.010688 361.339209 L 73.388794 356.096282 L 80.766899 351.121702 L 88.554899 346.142978 L 96.342899 341.425149 L 104.540794 336.721292 L 112.738688 332.267465 L 121.346478 327.840543 L 130.364162 323.45674 L 139.791741 319.130214 L 149.21932 315.045549 L 159.056794 311.020873 L 169.304162 307.066039 L 179.961425 303.189314 L 191.028583 299.397496 L 201.685846 295.953059 L 201.685846 295.953059 " clip-path="url(#p085b95d1e8)" style="fill: none; stroke-dasharray: 6,4.5; stroke-dashoffset: 0; stroke: #949494; stroke-width: 1.5"/>
   </g>
   <g id="line2d_90">
    <path d="M 38.137846 413.007639 L 43.056583 406.643574 L 48.385215 400.125407 L 53.713846 393.967157 L 59.042478 388.13998 L 64.781004 382.205205 L 70.51953 376.59551 L 76.258057 371.285015 L 82.406478 365.900892 L 88.554899 360.80802 L 95.113215 355.670861 L 101.67153 350.814122 L 108.639741 345.936213 L 115.607951 341.325847 L 122.986057 336.712191 L 130.774057 332.116653 L 138.562057 327.779658 L 146.759951 323.470471 L 155.367741 319.204858 L 164.385425 314.996485 L 173.403109 311.031787 L 182.830688 307.125157 L 192.668162 303.286191 L 201.685846 299.962512 L 201.685846 299.962512 " clip-path="url(#p085b95d1e8)" style="fill: none; stroke-dasharray: 6,1.5; stroke-dashoffset: 0; stroke: #949494; stroke-width: 1.5"/>
   </g>
   <g id="line2d_91">
    <path d="M 38.137846 431.609266 L 42.236794 424.417911 L 46.335741 417.641746 L 50.844583 410.627102 L 55.353425 404.033557 L 59.862267 397.825298 L 64.371109 391.970385 L 69.289846 385.952708 L 74.208583 380.288482 L 79.12732 374.948202 L 84.455951 369.49795 L 89.784583 364.367071 L 95.113215 359.528916 L 100.851741 354.618702 L 106.590267 349.99385 L 112.738688 345.328484 L 118.887109 340.937644 L 125.445425 336.530727 L 132.003741 332.385038 L 138.971951 328.241756 L 146.350057 324.122801 L 153.728162 320.255255 L 161.516162 316.42137 L 169.714057 312.636822 L 178.321846 308.914976 L 187.33953 305.267019 L 196.767109 301.702123 L 201.685846 299.935085 L 201.685846 299.935085 " clip-path="url(#p085b95d1e8)" style="fill: none; stroke: #ca9161; stroke-width: 1.5"/>
   </g>
   <g id="line2d_92">
    <path d="M 38.137846 433.778672 L 42.646688 426.684413 L 47.15553 419.996258 L 51.664372 413.680551 L 56.583109 407.180228 L 61.501846 401.05264 L 66.420583 395.266819 L 71.749215 389.352528 L 77.077846 383.775599 L 82.406478 378.508125 L 88.145004 373.153009 L 93.88353 368.10014 L 100.031951 362.993676 L 106.180372 358.178661 L 112.738688 353.336728 L 119.297004 348.772882 L 126.265215 344.2026 L 133.233425 339.895366 L 140.61153 335.597081 L 148.39953 331.327616 L 156.18753 327.309266 L 164.385425 323.327168 L 172.993215 319.395624 L 182.010899 315.526858 L 191.438478 311.731144 L 201.275951 308.016953 L 201.685846 307.867314 L 201.685846 307.867314 " clip-path="url(#p085b95d1e8)" style="fill: none; stroke-dasharray: 4.5,1.5; stroke-dashoffset: 0; stroke: #ca9161; stroke-width: 1.5"/>
   </g>
   <g id="patch_21">
    <path d="M 38.137846 494.183631 L 38.137846 271.174708 " style="fill: none; stroke: #000000; stroke-width: 0.8; stroke-linejoin: miter; stroke-linecap: square"/>
   </g>
   <g id="patch_22">
    <path d="M 201.685846 494.183631 L 201.685846 271.174708 " style="fill: none; stroke: #000000; stroke-width: 0.8; stroke-linejoin: miter; stroke-linecap: square"/>
   </g>
   <g id="patch_23">
    <path d="M 38.137846 494.183631 L 201.685846 494.183631 " style="fill: none; stroke: #000000; stroke-width: 0.8; stroke-linejoin: miter; stroke-linecap: square"/>
   </g>
   <g id="patch_24">
    <path d="M 38.137846 271.174708 L 201.685846 271.174708 " style="fill: none; stroke: #000000; stroke-width: 0.8; stroke-linejoin: miter; stroke-linecap: square"/>
   </g>
   <g id="legend_4">
    <g id="patch_25">
     <path d="M 45.137846 337.887208 L 110.515971 337.887208 Q 112.515971 337.887208 112.515971 335.887208 L 112.515971 278.174708 Q 112.515971 276.174708 110.515971 276.174708 L 45.137846 276.174708 Q 43.137846 276.174708 43.137846 278.174708 L 43.137846 335.887208 Q 43.137846 337.887208 45.137846 337.887208 z
" style="fill: #ffffff; opacity: 0.8; stroke: #cccccc; stroke-linejoin: miter"/>
    </g>
    <g id="line2d_93">
     <path d="M 47.137846 284.273145 L 57.137846 284.273145 L 67.137846 284.273145 " style="fill: none; stroke-dasharray: 6,4.5; stroke-dashoffset: 0; stroke: #949494; stroke-width: 1.5"/>
    </g>
    <g id="text_53">
     <text style="font-size: 10px; font-family: 'DejaVu Sans'; text-anchor: start" x="75.137846" y="287.773145" transform="rotate(-0 75.137846 287.773145)">O2(g)</text>
    </g>
    <g id="line2d_94">
     <path d="M 47.137846 298.95127 L 57.137846 298.95127 L 67.137846 298.95127 " style="fill: none; stroke-dasharray: 6,1.5; stroke-dashoffset: 0; stroke: #949494; stroke-width: 1.5"/>
    </g>
    <g id="text_54">
     <text style="font-size: 10px; font-family: 'DejaVu Sans'; text-anchor: start" x="75.137846" y="302.45127" transform="rotate(-0 75.137846 302.45127)">O(g)</text>
    </g>
    <g id="line2d_95">
     <path d="M 47.137846 313.629395 L 57.137846 313.629395 L 67.137846 313.629395 " style="fill: none; stroke: #ca9161; stroke-width: 1.5"/>
    </g>
    <g id="text_55">
     <text style="font-size: 10px; font-family: 'DejaVu Sans'; text-anchor: start" x="75.137846" y="317.129395" transform="rotate(-0 75.137846 317.129395)">Fe(g)</text>
    </g>
    <g id="line2d_96">
     <path d="M 47.137846 328.30752 L 57.137846 328.30752 L 67.137846 328.30752 " style="fill: none; stroke-dasharray: 4.5,1.5; stroke-dashoffset: 0; stroke: #ca9161; stroke-width: 1.5"/>
    </g>
    <g id="text_56">
     <text style="font-size: 10px; font-family: 'DejaVu Sans'; text-anchor: start" x="75.137846" y="331.80752" transform="rotate(-0 75.137846 331.80752)">FeO(g)</text>
    </g>
   </g>
  </g>
  <g id="axes_5">
   <g id="patch_26">
    <path d="M 234.395446 494.183631 L 397.943446 494.183631 L 397.943446 271.174708 L 234.395446 271.174708 z
" style="fill: #ffffff"/>
   </g>
   <g id="matplotlib.axis_9">
    <g id="xtick_17">
     <g id="line2d_97">
      <g>
       <path d="M 234.4 494.2 L 234.4 497.7" style="stroke: #000000; stroke-width: 0.8"/>
      </g>
     </g>
     <g id="text_57">
      <text style="font-size: 10px; font-family: 'DejaVu Sans'; text-anchor: middle" x="234.395446" y="508.782068" transform="rotate(-0 234.395446 508.782068)">1500</text>
     </g>
    </g>
    <g id="xtick_18">
     <g id="line2d_98">
      <g>
       <path d="M 288.9 494.2 L 288.9 497.7" style="stroke: #000000; stroke-width: 0.8"/>
      </g>
     </g>
     <g id="text_58">
      <text style="font-size: 10px; font-family: 'DejaVu Sans'; text-anchor: middle" x="288.911446" y="508.782068" transform="rotate(-0 288.911446 508.782068)">2000</text>
     </g>
    </g>
    <g id="xtick_19">
     <g id="line2d_99">
      <g>
       <path d="M 343.4 494.2 L 343.4 497.7" style="stroke: #000000; stroke-width: 0.8"/>
      </g>
     </g>
     <g id="text_59">
      <text style="font-size: 10px; font-family: 'DejaVu Sans'; text-anchor: middle" x="343.427446" y="508.782068" transform="rotate(-0 343.427446 508.782068)">2500</text>
     </g>
    </g>
    <g id="xtick_20">
     <g id="line2d_100">
      <g>
       <path d="M 397.9 494.2 L 397.9 497.7" style="stroke: #000000; stroke-width: 0.8"/>
      </g>
     </g>
     <g id="text_60">
      <text style="font-size: 10px; font-family: 'DejaVu Sans'; text-anchor: middle" x="397.943446" y="508.782068" transform="rotate(-0 397.943446 508.782068)">3000</text>
     </g>
    </g>
   </g>
   <g id="matplotlib.axis_10">
    <g id="ytick_33">
     <g id="line2d_101">
      <g>
       <path d="M 234.4 494.2 L 230.9 494.2" style="stroke: #000000; stroke-width: 0.8"/>
      </g>
     </g>
    </g>
    <g id="ytick_34">
     <g id="line2d_102">
      <g>
       <path d="M 234.4 462.3 L 230.9 462.3" style="stroke: #000000; stroke-width: 0.8"/>
      </g>
     </g>
    </g>
    <g id="ytick_35">
     <g id="line2d_103">
      <g>
       <path d="M 234.4 430.5 L 230.9 430.5" style="stroke: #000000; stroke-width: 0.8"/>
      </g>
     </g>
    </g>
    <g id="ytick_36">
     <g id="line2d_104">
      <g>
       <path d="M 234.4 398.6 L 230.9 398.6" style="stroke: #000000; stroke-width: 0.8"/>
      </g>
     </g>
    </g>
    <g id="ytick_37">
     <g id="line2d_105">
      <g>
       <path d="M 234.4 366.7 L 230.9 366.7" style="stroke: #000000; stroke-width: 0.8"/>
      </g>
     </g>
    </g>
    <g id="ytick_38">
     <g id="line2d_106">
      <g>
       <path d="M 234.4 334.9 L 230.9 334.9" style="stroke: #000000; stroke-width: 0.8"/>
      </g>
     </g>
    </g>
    <g id="ytick_39">
     <g id="line2d_107">
      <g>
       <path d="M 234.4 303 L 230.9 303" style="stroke: #000000; stroke-width: 0.8"/>
      </g>
     </g>
    </g>
    <g id="ytick_40">
     <g id="line2d_108">
      <g>
       <path d="M 234.4 271.2 L 230.9 271.2" style="stroke: #000000; stroke-width: 0.8"/>
      </g>
     </g>
    </g>
   </g>
   <g id="line2d_109">
    <path d="M 234.395446 383.881803 L 241.363657 377.809409 L 248.331867 372.038259 L 255.300078 366.553358 L 262.268288 361.339209 L 269.646394 356.096282 L 277.024499 351.121702 L 284.812499 346.142978 L 292.600499 341.425149 L 300.798394 336.721292 L 308.996288 332.267465 L 317.604078 327.840543 L 326.621762 323.45674 L 336.049341 319.130214 L 345.47692 315.045549 L 355.314394 311.020873 L 365.561762 307.066039 L 376.219025 303.189314 L 387.286183 299.397496 L 397.943446 295.953059 L 397.943446 295.953059 " clip-path="url(#p2e2e2eaaee)" style="fill: none; stroke-dasharray: 6,4.5; stroke-dashoffset: 0; stroke: #949494; stroke-width: 1.5"/>
   </g>
   <g id="line2d_110">
    <path d="M 234.395446 413.007639 L 239.314183 406.643574 L 244.642815 400.125407 L 249.971446 393.967157 L 255.300078 388.13998 L 261.038604 382.205205 L 266.77713 376.59551 L 272.515657 371.285015 L 278.664078 365.900892 L 284.812499 360.80802 L 291.370815 355.670861 L 297.92913 350.814122 L 304.897341 345.936213 L 311.865551 341.325847 L 319.243657 336.712191 L 327.031657 332.116653 L 334.819657 327.779658 L 343.017551 323.470471 L 351.625341 319.204858 L 360.643025 314.996485 L 369.660709 311.031787 L 379.088288 307.125157 L 388.925762 303.286191 L 397.943446 299.962512 L 397.943446 299.962512 " clip-path="url(#p2e2e2eaaee)" style="fill: none; stroke-dasharray: 6,1.5; stroke-dashoffset: 0; stroke: #949494; stroke-width: 1.5"/>
   </g>
   <g id="line2d_111">
    <path d="M 234.395446 562.930503 L 238.494394 551.725618 L 242.593341 541.208804 L 246.692288 531.321477 L 250.791236 522.011324 L 254.890183 513.231503 L 258.98913 504.939959 L 263.497972 496.338159 L 268.006815 488.236215 L 272.515657 480.593623 L 277.024499 473.374016 L 281.533341 466.544664 L 286.452078 459.504925 L 291.370815 452.860008 L 296.289551 446.578899 L 301.618183 440.15258 L 306.946815 434.088555 L 312.275446 428.358159 L 317.604078 422.935598 L 323.342604 417.413544 L 329.08113 412.195376 L 335.229551 406.914996 L 341.377972 401.930438 L 347.936288 396.913361 L 354.494604 392.180891 L 361.462815 387.439045 L 368.431025 382.968331 L 375.80913 378.505855 L 383.187236 374.299557 L 390.975236 370.114544 L 397.943446 366.57443 L 397.943446 366.57443 " clip-path="url(#p2e2e2eaaee)" style="fill: none; stroke: #0173b2; stroke-width: 1.5"/>
   </g>
   <g id="line2d_112">
    <path d="M 234.395446 574.585754 L 238.494394 563.759616 L 242.593341 553.544547 L 246.692288 543.891377 L 251.20113 533.869358 L 255.709972 524.421373 L 260.218815 515.50048 L 264.727657 507.064646 L 269.236499 499.076126 L 274.155236 490.831693 L 279.073972 483.039565 L 283.992709 475.664181 L 288.911446 468.673563 L 294.240078 461.501222 L 299.568709 454.713658 L 304.897341 448.281213 L 310.225972 442.177166 L 315.964499 435.943203 L 321.703025 430.03494 L 327.851446 424.038294 L 333.999867 418.360304 L 340.148288 412.976572 L 346.706604 407.533519 L 353.26492 402.376219 L 360.23313 397.185509 L 367.201341 392.269609 L 374.579446 387.34076 L 381.957551 382.674055 L 389.745551 378.010257 L 397.943446 373.368945 L 397.943446 373.368945 " clip-path="url(#p2e2e2eaaee)" style="fill: none; stroke-dasharray: 4.5,1.5; stroke-dashoffset: 0; stroke: #0173b2; stroke-width: 1.5"/>
   </g>
   <g id="line2d_113">
    <path d="M 0 0 " clip-path="url(#p2e2e2eaaee)" style="fill: none; stroke-dasharray: 3,1.5; stroke-dashoffset: 0; stroke: #0173b2; stroke-width: 1.5"/>
   </g>
   <g id="patch_27">
    <path d="M 234.395446 494.183631 L 234.395446 271.174708 " style="fill: none; stroke: #000000; stroke-width: 0.8; stroke-linejoin: miter; stroke-linecap: square"/>
   </g>
   <g id="patch_28">
    <path d="M 397.943446 494.183631 L 397.943446 271.174708 " style="fill: none; stroke: #000000; stroke-width: 0.8; stroke-linejoin: miter; stroke-linecap: square"/>
   </g>
   <g id="patch_29">
    <path d="M 234.395446 494.183631 L 397.943446 494.183631 " style="fill: none; stroke: #000000; stroke-width: 0.8; stroke-linejoin: miter; stroke-linecap: square"/>
   </g>
   <g id="patch_30">
    <path d="M 234.395446 271.174708 L 397.943446 271.174708 " style="fill: none; stroke: #000000; stroke-width: 0.8; stroke-linejoin: miter; stroke-linecap: square"/>
   </g>
   <g id="legend_5">
    <g id="patch_31">
     <path d="M 241.395446 352.565333 L 308.529821 352.565333 Q 310.529821 352.565333 310.529821 350.565333 L 310.529821 278.174708 Q 310.529821 276.174708 308.529821 276.174708 L 241.395446 276.174708 Q 239.395446 276.174708 239.395446 278.174708 L 239.395446 350.565333 Q 239.395446 352.565333 241.395446 352.565333 z
" style="fill: #ffffff; opacity: 0.8; stroke: #cccccc; stroke-linejoin: miter"/>
    </g>
    <g id="line2d_114">
     <path d="M 243.395446 284.273145 L 253.395446 284.273145 L 263.395446 284.273145 " style="fill: none; stroke-dasharray: 6,4.5; stroke-dashoffset: 0; stroke: #949494; stroke-width: 1.5"/>
    </g>
    <g id="text_61">
     <text style="font-size: 10px; font-family: 'DejaVu Sans'; text-anchor: start" x="271.395446" y="287.773145" transform="rotate(-0 271.395446 287.773145)">O2(g)</text>
    </g>
    <g id="line2d_115">
     <path d="M 243.395446 298.95127 L 253.395446 298.95127 L 263.395446 298.95127 " style="fill: none; stroke-dasharray: 6,1.5; stroke-dashoffset: 0; stroke: #949494; stroke-width: 1.5"/>
    </g>
    <g id="text_62">
     <text style="font-size: 10px; font-family: 'DejaVu Sans'; text-anchor: start" x="271.395446" y="302.45127" transform="rotate(-0 271.395446 302.45127)">O(g)</text>
    </g>
    <g id="line2d_116">
     <path d="M 243.395446 313.629395 L 253.395446 313.629395 L 263.395446 313.629395 " style="fill: none; stroke: #0173b2; stroke-width: 1.5"/>
    </g>
    <g id="text_63">
     <text style="font-size: 10px; font-family: 'DejaVu Sans'; text-anchor: start" x="271.395446" y="317.129395" transform="rotate(-0 271.395446 317.129395)">Ca(g)</text>
    </g>
    <g id="line2d_117">
     <path d="M 243.395446 328.30752 L 253.395446 328.30752 L 263.395446 328.30752 " style="fill: none; stroke-dasharray: 4.5,1.5; stroke-dashoffset: 0; stroke: #0173b2; stroke-width: 1.5"/>
    </g>
    <g id="text_64">
     <text style="font-size: 10px; font-family: 'DejaVu Sans'; text-anchor: start" x="271.395446" y="331.80752" transform="rotate(-0 271.395446 331.80752)">CaO(g)</text>
    </g>
    <g id="line2d_118">
     <path d="M 243.395446 342.985645 L 253.395446 342.985645 L 263.395446 342.985645 " style="fill: none; stroke-dasharray: 3,1.5; stroke-dashoffset: 0; stroke: #0173b2; stroke-width: 1.5"/>
    </g>
    <g id="text_65">
     <text style="font-size: 10px; font-family: 'DejaVu Sans'; text-anchor: start" x="271.395446" y="346.485645" transform="rotate(-0 271.395446 346.485645)">Ca2(g)</text>
    </g>
   </g>
  </g>
  <g id="axes_6">
   <g id="patch_32">
    <path d="M 430.653046 494.183631 L 594.201046 494.183631 L 594.201046 271.174708 L 430.653046 271.174708 z
" style="fill: #ffffff"/>
   </g>
   <g id="matplotlib.axis_11">
    <g id="xtick_21">
     <g id="line2d_119">
      <g>
       <path d="M 430.7 494.2 L 430.7 497.7" style="stroke: #000000; stroke-width: 0.8"/>
      </g>
     </g>
     <g id="text_66">
      <text style="font-size: 10px; font-family: 'DejaVu Sans'; text-anchor: middle" x="430.653046" y="508.782068" transform="rotate(-0 430.653046 508.782068)">1500</text>
     </g>
    </g>
    <g id="xtick_22">
     <g id="line2d_120">
      <g>
       <path d="M 485.2 494.2 L 485.2 497.7" style="stroke: #000000; stroke-width: 0.8"/>
      </g>
     </g>
     <g id="text_67">
      <text style="font-size: 10px; font-family: 'DejaVu Sans'; text-anchor: middle" x="485.169046" y="508.782068" transform="rotate(-0 485.169046 508.782068)">2000</text>
     </g>
    </g>
    <g id="xtick_23">
     <g id="line2d_121">
      <g>
       <path d="M 539.7 494.2 L 539.7 497.7" style="stroke: #000000; stroke-width: 0.8"/>
      </g>
     </g>
     <g id="text_68">
      <text style="font-size: 10px; font-family: 'DejaVu Sans'; text-anchor: middle" x="539.685046" y="508.782068" transform="rotate(-0 539.685046 508.782068)">2500</text>
     </g>
    </g>
    <g id="xtick_24">
     <g id="line2d_122">
      <g>
       <path d="M 594.2 494.2 L 594.2 497.7" style="stroke: #000000; stroke-width: 0.8"/>
      </g>
     </g>
     <g id="text_69">
      <text style="font-size: 10px; font-family: 'DejaVu Sans'; text-anchor: middle" x="594.201046" y="508.782068" transform="rotate(-0 594.201046 508.782068)">3000</text>
     </g>
    </g>
   </g>
   <g id="matplotlib.axis_12">
    <g id="ytick_41">
     <g id="line2d_123">
      <g>
       <path d="M 430.7 494.2 L 427.2 494.2" style="stroke: #000000; stroke-width: 0.8"/>
      </g>
     </g>
    </g>
    <g id="ytick_42">
     <g id="line2d_124">
      <g>
       <path d="M 430.7 462.3 L 427.2 462.3" style="stroke: #000000; stroke-width: 0.8"/>
      </g>
     </g>
    </g>
    <g id="ytick_43">
     <g id="line2d_125">
      <g>
       <path d="M 430.7 430.5 L 427.2 430.5" style="stroke: #000000; stroke-width: 0.8"/>
      </g>
     </g>
    </g>
    <g id="ytick_44">
     <g id="line2d_126">
      <g>
       <path d="M 430.7 398.6 L 427.2 398.6" style="stroke: #000000; stroke-width: 0.8"/>
      </g>
     </g>
    </g>
    <g id="ytick_45">
     <g id="line2d_127">
      <g>
       <path d="M 430.7 366.7 L 427.2 366.7" style="stroke: #000000; stroke-width: 0.8"/>
      </g>
     </g>
    </g>
    <g id="ytick_46">
     <g id="line2d_128">
      <g>
       <path d="M 430.7 334.9 L 427.2 334.9" style="stroke: #000000; stroke-width: 0.8"/>
      </g>
     </g>
    </g>
    <g id="ytick_47">
     <g id="line2d_129">
      <g>
       <path d="M 430.7 303 L 427.2 303" style="stroke: #000000; stroke-width: 0.8"/>
      </g>
     </g>
    </g>
    <g id="ytick_48">
     <g id="line2d_130">
      <g>
       <path d="M 430.7 271.2 L 427.2 271.2" style="stroke: #000000; stroke-width: 0.8"/>
      </g>
     </g>
    </g>
   </g>
   <g id="line2d_131">
    <path d="M 430.653046 383.881803 L 437.621257 377.809409 L 444.589467 372.038259 L 451.557678 366.553358 L 458.525888 361.339209 L 465.903994 356.096282 L 473.282099 351.121702 L 481.070099 346.142978 L 488.858099 341.425149 L 497.055994 336.721292 L 505.253888 332.267465 L 513.861678 327.840543 L 522.879362 323.45674 L 532.306941 319.130214 L 541.73452 315.045549 L 551.571994 311.020873 L 561.819362 307.066039 L 572.476625 303.189314 L 583.543783 299.397496 L 594.201046 295.953059 L 594.201046 295.953059 " clip-path="url(#p6e4dde68d3)" style="fill: none; stroke-dasharray: 6,4.5; stroke-dashoffset: 0; stroke: #949494; stroke-width: 1.5"/>
   </g>
   <g id="line2d_132">
    <path d="M 430.653046 413.007639 L 435.571783 406.643574 L 440.900415 400.125407 L 446.229046 393.967157 L 451.557678 388.13998 L 457.296204 382.205205 L 463.03473 376.59551 L 468.773257 371.285015 L 474.921678 365.900892 L 481.070099 360.80802 L 487.628415 355.670861 L 494.18673 350.814122 L 501.154941 345.936213 L 508.123151 341.325847 L 515.501257 336.712191 L 523.289257 332.116653 L 531.077257 327.779658 L 539.275151 323.470471 L 547.882941 319.204858 L 556.900625 314.996485 L 565.918309 311.031787 L 575.345888 307.125157 L 585.183362 303.286191 L 594.201046 299.962512 L 594.201046 299.962512 " clip-path="url(#p6e4dde68d3)" style="fill: none; stroke-dasharray: 6,1.5; stroke-dashoffset: 0; stroke: #949494; stroke-width: 1.5"/>
   </g>
   <g id="line2d_133">
    <path d="M 430.653046 378.93973 L 435.571783 373.740573 L 440.900415 368.436999 L 446.229046 363.44597 L 451.967572 358.389838 L 457.706099 353.635446 L 463.444625 349.156567 L 469.593046 344.637116 L 476.151362 340.107016 L 482.709678 335.850343 L 489.677888 331.600395 L 496.646099 327.606574 L 504.024204 323.632059 L 511.812204 319.694949 L 520.010099 315.81083 L 528.207994 312.169031 L 536.815783 308.581915 L 545.833467 305.060178 L 555.261046 301.612657 L 565.09852 298.246497 L 575.755783 294.840641 L 586.822941 291.542848 L 594.201046 289.467656 L 594.201046 289.467656 " clip-path="url(#p6e4dde68d3)" style="fill: none; stroke: #d55e00; stroke-width: 1.5"/>
   </g>
   <g id="line2d_134">
    <path d="M 430.653046 457.952343 L 435.161888 450.123529 L 439.67073 442.756802 L 444.179572 435.812921 L 448.688415 429.256923 L 453.607151 422.510675 L 458.525888 416.152718 L 463.444625 410.150821 L 468.773257 404.017255 L 474.101888 398.235176 L 479.43052 392.775501 L 485.169046 387.226663 L 490.907572 381.992671 L 496.646099 377.047694 L 502.79452 372.044034 L 508.942941 367.320281 L 515.501257 362.564638 L 522.059572 358.077153 L 529.027783 353.578572 L 536.405888 349.092425 L 543.783994 344.867044 L 551.571994 340.6656 L 559.769888 336.50533 L 567.967783 332.590799 L 576.575572 328.722044 L 585.593257 324.911307 L 594.201046 321.485136 L 594.201046 321.485136 " clip-path="url(#p6e4dde68d3)" style="fill: none; stroke-dasharray: 4.5,1.5; stroke-dashoffset: 0; stroke: #d55e00; stroke-width: 1.5"/>
   </g>
   <g id="line2d_135">
    <path d="M 430.653046 517.171606 L 434.751994 508.086925 L 438.850941 499.532382 L 442.949888 491.464311 L 447.45873 483.104768 L 451.967572 475.240139 L 456.476415 467.828997 L 460.985257 460.834323 L 465.494099 454.222938 L 470.412836 447.412707 L 475.331572 440.988483 L 480.250309 434.919195 L 485.578941 428.712398 L 490.907572 422.857713 L 496.236204 417.326718 L 501.97473 411.703076 L 507.713257 406.396782 L 513.451783 401.382305 L 519.600204 396.307505 L 525.748625 391.516181 L 532.306941 386.692447 L 538.865257 382.140972 L 545.833467 377.578813 L 552.801678 373.27568 L 560.179783 368.978397 L 567.967783 364.707226 L 575.755783 360.685139 L 583.953678 356.697618 L 592.561467 352.759356 L 594.201046 352.036248 L 594.201046 352.036248 " clip-path="url(#p6e4dde68d3)" style="fill: none; stroke-dasharray: 3,1.5; stroke-dashoffset: 0; stroke: #d55e00; stroke-width: 1.5"/>
   </g>
   <g id="patch_33">
    <path d="M 430.653046 494.183631 L 430.653046 271.174708 " style="fill: none; stroke: #000000; stroke-width: 0.8; stroke-linejoin: miter; stroke-linecap: square"/>
   </g>
   <g id="patch_34">
    <path d="M 594.201046 494.183631 L 594.201046 271.174708 " style="fill: none; stroke: #000000; stroke-width: 0.8; stroke-linejoin: miter; stroke-linecap: square"/>
   </g>
   <g id="patch_35">
    <path d="M 430.653046 494.183631 L 594.201046 494.183631 " style="fill: none; stroke: #000000; stroke-width: 0.8; stroke-linejoin: miter; stroke-linecap: square"/>
   </g>
   <g id="patch_36">
    <path d="M 430.653046 271.174708 L 594.201046 271.174708 " style="fill: none; stroke: #000000; stroke-width: 0.8; stroke-linejoin: miter; stroke-linecap: square"/>
   </g>
   <g id="legend_6">
    <g id="patch_37">
     <path d="M 437.653046 352.565333 L 505.285859 352.565333 Q 507.285859 352.565333 507.285859 350.565333 L 507.285859 278.174708 Q 507.285859 276.174708 505.285859 276.174708 L 437.653046 276.174708 Q 435.653046 276.174708 435.653046 278.174708 L 435.653046 350.565333 Q 435.653046 352.565333 437.653046 352.565333 z
" style="fill: #ffffff; opacity: 0.8; stroke: #cccccc; stroke-linejoin: miter"/>
    </g>
    <g id="line2d_136">
     <path d="M 439.653046 284.273145 L 449.653046 284.273145 L 459.653046 284.273145 " style="fill: none; stroke-dasharray: 6,4.5; stroke-dashoffset: 0; stroke: #949494; stroke-width: 1.5"/>
    </g>
    <g id="text_70">
     <text style="font-size: 10px; font-family: 'DejaVu Sans'; text-anchor: start" x="467.653046" y="287.773145" transform="rotate(-0 467.653046 287.773145)">O2(g)</text>
    </g>
    <g id="line2d_137">
     <path d="M 439.653046 298.95127 L 449.653046 298.95127 L 459.653046 298.95127 " style="fill: none; stroke-dasharray: 6,1.5; stroke-dashoffset: 0; stroke: #949494; stroke-width: 1.5"/>
    </g>
    <g id="text_71">
     <text style="font-size: 10px; font-family: 'DejaVu Sans'; text-anchor: start" x="467.653046" y="302.45127" transform="rotate(-0 467.653046 302.45127)">O(g)</text>
    </g>
    <g id="line2d_138">
     <path d="M 439.653046 313.629395 L 449.653046 313.629395 L 459.653046 313.629395 " style="fill: none; stroke: #d55e00; stroke-width: 1.5"/>
    </g>
    <g id="text_72">
     <text style="font-size: 10px; font-family: 'DejaVu Sans'; text-anchor: start" x="467.653046" y="317.129395" transform="rotate(-0 467.653046 317.129395)">Na(g)</text>
    </g>
    <g id="line2d_139">
     <path d="M 439.653046 328.30752 L 449.653046 328.30752 L 459.653046 328.30752 " style="fill: none; stroke-dasharray: 4.5,1.5; stroke-dashoffset: 0; stroke: #d55e00; stroke-width: 1.5"/>
    </g>
    <g id="text_73">
     <text style="font-size: 10px; font-family: 'DejaVu Sans'; text-anchor: start" x="467.653046" y="331.80752" transform="rotate(-0 467.653046 331.80752)">NaO(g)</text>
    </g>
    <g id="line2d_140">
     <path d="M 439.653046 342.985645 L 449.653046 342.985645 L 459.653046 342.985645 " style="fill: none; stroke-dasharray: 3,1.5; stroke-dashoffset: 0; stroke: #d55e00; stroke-width: 1.5"/>
    </g>
    <g id="text_74">
     <text style="font-size: 10px; font-family: 'DejaVu Sans'; text-anchor: start" x="467.653046" y="346.485645" transform="rotate(-0 467.653046 346.485645)">Na2(g)</text>
    </g>
   </g>
  </g>
  <g id="axes_7">
   <g id="patch_38">
    <path d="M 38.137846 761.794338 L 201.685846 761.794338 L 201.685846 538.785415 L 38.137846 538.785415 z
" style="fill: #ffffff"/>
   </g>
   <g id="matplotlib.axis_13">
    <g id="xtick_25">
     <g id="line2d_141">
      <g>
       <path d="M 38.14 761.8 L 38.14 765.3" style="stroke: #000000; stroke-width: 0.8"/>
      </g>
     </g>
     <g id="text_75">
      <text style="font-size: 10px; font-family: 'DejaVu Sans'; text-anchor: middle" x="38.137846" y="776.392776" transform="rotate(-0 38.137846 776.392776)">1500</text>
     </g>
    </g>
    <g id="xtick_26">
     <g id="line2d_142">
      <g>
       <path d="M 92.65 761.8 L 92.65 765.3" style="stroke: #000000; stroke-width: 0.8"/>
      </g>
     </g>
     <g id="text_76">
      <text style="font-size: 10px; font-family: 'DejaVu Sans'; text-anchor: middle" x="92.653846" y="776.392776" transform="rotate(-0 92.653846 776.392776)">2000</text>
     </g>
    </g>
    <g id="xtick_27">
     <g id="line2d_143">
      <g>
       <path d="M 147.2 761.8 L 147.2 765.3" style="stroke: #000000; stroke-width: 0.8"/>
      </g>
     </g>
     <g id="text_77">
      <text style="font-size: 10px; font-family: 'DejaVu Sans'; text-anchor: middle" x="147.169846" y="776.392776" transform="rotate(-0 147.169846 776.392776)">2500</text>
     </g>
    </g>
    <g id="xtick_28">
     <g id="line2d_144">
      <g>
       <path d="M 201.7 761.8 L 201.7 765.3" style="stroke: #000000; stroke-width: 0.8"/>
      </g>
     </g>
     <g id="text_78">
      <text style="font-size: 10px; font-family: 'DejaVu Sans'; text-anchor: middle" x="201.685846" y="776.392776" transform="rotate(-0 201.685846 776.392776)">3000</text>
     </g>
    </g>
   </g>
   <g id="matplotlib.axis_14">
    <g id="ytick_49">
     <g id="line2d_145">
      <g>
       <path d="M 38.14 761.8 L 34.64 761.8" style="stroke: #000000; stroke-width: 0.8"/>
      </g>
     </g>
     <g id="text_79">
      <text style="font-size: 10px; font-family: 'DejaVu Sans'; text-anchor: end" x="31.137846" y="765.593557" transform="rotate(-0 31.137846 765.593557)">−14</text>
     </g>
    </g>
    <g id="ytick_50">
     <g id="line2d_146">
      <g>
       <path d="M 38.14 729.9 L 34.64 729.9" style="stroke: #000000; stroke-width: 0.8"/>
      </g>
     </g>
     <g id="text_80">
      <text style="font-size: 10px; font-family: 'DejaVu Sans'; text-anchor: end" x="31.137846" y="733.73514" transform="rotate(-0 31.137846 733.73514)">−12</text>
     </g>
    </g>
    <g id="ytick_51">
     <g id="line2d_147">
      <g>
       <path d="M 38.14 698.1 L 34.64 698.1" style="stroke: #000000; stroke-width: 0.8"/>
      </g>
     </g>
     <g id="text_81">
      <text style="font-size: 10px; font-family: 'DejaVu Sans'; text-anchor: end" x="31.137846" y="701.876722" transform="rotate(-0 31.137846 701.876722)">−10</text>
     </g>
    </g>
    <g id="ytick_52">
     <g id="line2d_148">
      <g>
       <path d="M 38.14 666.2 L 34.64 666.2" style="stroke: #000000; stroke-width: 0.8"/>
      </g>
     </g>
     <g id="text_82">
      <text style="font-size: 10px; font-family: 'DejaVu Sans'; text-anchor: end" x="31.137846" y="670.018304" transform="rotate(-0 31.137846 670.018304)">−8</text>
     </g>
    </g>
    <g id="ytick_53">
     <g id="line2d_149">
      <g>
       <path d="M 38.14 634.4 L 34.64 634.4" style="stroke: #000000; stroke-width: 0.8"/>
      </g>
     </g>
     <g id="text_83">
      <text style="font-size: 10px; font-family: 'DejaVu Sans'; text-anchor: end" x="31.137846" y="638.159887" transform="rotate(-0 31.137846 638.159887)">−6</text>
     </g>
    </g>
    <g id="ytick_54">
     <g id="line2d_150">
      <g>
       <path d="M 38.14 602.5 L 34.64 602.5" style="stroke: #000000; stroke-width: 0.8"/>
      </g>
     </g>
     <g id="text_84">
      <text style="font-size: 10px; font-family: 'DejaVu Sans'; text-anchor: end" x="31.137846" y="606.301469" transform="rotate(-0 31.137846 606.301469)">−4</text>
     </g>
    </g>
    <g id="ytick_55">
     <g id="line2d_151">
      <g>
       <path d="M 38.14 570.6 L 34.64 570.6" style="stroke: #000000; stroke-width: 0.8"/>
      </g>
     </g>
     <g id="text_85">
      <text style="font-size: 10px; font-family: 'DejaVu Sans'; text-anchor: end" x="31.137846" y="574.443052" transform="rotate(-0 31.137846 574.443052)">−2</text>
     </g>
    </g>
    <g id="ytick_56">
     <g id="line2d_152">
      <g>
       <path d="M 38.14 538.8 L 34.64 538.8" style="stroke: #000000; stroke-width: 0.8"/>
      </g>
     </g>
     <g id="text_86">
      <text style="font-size: 10px; font-family: 'DejaVu Sans'; text-anchor: end" x="31.137846" y="542.584634" transform="rotate(-0 31.137846 542.584634)">0</text>
     </g>
    </g>
   </g>
   <g id="line2d_153">
    <path d="M 38.137846 651.49251 L 45.106057 645.420116 L 52.074267 639.648966 L 59.042478 634.164065 L 66.010688 628.949916 L 73.388794 623.70699 L 80.766899 618.73241 L 88.554899 613.753686 L 96.342899 609.035857 L 104.540794 604.331999 L 112.738688 599.878172 L 121.346478 595.451251 L 130.364162 591.067447 L 139.791741 586.740922 L 149.21932 582.656257 L 159.056794 578.631581 L 169.304162 574.676746 L 179.961425 570.800022 L 191.028583 567.008204 L 201.685846 563.563767 L 201.685846 563.563767 " clip-path="url(#pf0c5032784)" style="fill: none; stroke-dasharray: 6,4.5; stroke-dashoffset: 0; stroke: #949494; stroke-width: 1.5"/>
   </g>
   <g id="line2d_154">
    <path d="M 38.137846 680.618347 L 43.056583 674.254282 L 48.385215 667.736115 L 53.713846 661.577865 L 59.042478 655.750688 L 64.781004 649.815913 L 70.51953 644.206218 L 76.258057 638.895723 L 82.406478 633.5116 L 88.554899 628.418728 L 95.113215 623.281569 L 101.67153 618.424829 L 108.639741 613.546921 L 115.607951 608.936555 L 122.986057 604.322899 L 130.774057 599.727361 L 138.562057 595.390366 L 146.759951 591.081178 L 155.367741 586.815566 L 164.385425 582.607193 L 173.403109 578.642495 L 182.830688 574.735865 L 192.668162 570.896898 L 201.685846 567.57322 L 201.685846 567.57322 " clip-path="url(#pf0c5032784)" style="fill: none; stroke-dasharray: 6,1.5; stroke-dashoffset: 0; stroke: #949494; stroke-width: 1.5"/>
   </g>
   <g id="line2d_155">
    <path d="M 38.137846 668.4918 L 42.646688 662.830588 L 47.15553 657.518134 L 52.074267 652.084647 L 56.993004 646.994789 L 61.911741 642.217613 L 67.240372 637.363492 L 72.569004 632.813441 L 78.30753 628.222331 L 84.046057 623.922443 L 90.194478 619.608674 L 96.342899 615.570387 L 102.901215 611.53824 L 109.45953 607.764087 L 116.427741 604.010359 L 123.805846 600.296585 L 131.593846 596.639429 L 139.381846 593.226177 L 147.579741 589.871204 L 156.18753 586.585604 L 165.205215 583.378385 L 174.632794 580.256655 L 184.880162 577.104211 L 195.537425 574.063963 L 201.685846 572.410423 L 201.685846 572.410423 " clip-path="url(#pf0c5032784)" style="fill: none; stroke: #cc78bc; stroke-width: 1.5"/>
   </g>
   <g id="line2d_156">
    <path d="M 38.137846 728.322185 L 42.646688 720.665486 L 47.15553 713.461735 L 51.664372 706.672399 L 56.173215 700.263152 L 61.091951 693.668783 L 66.010688 687.454784 L 70.929425 681.58953 L 76.258057 675.596367 L 81.586688 669.947365 L 86.91532 664.613997 L 92.653846 659.194192 L 98.392372 654.08253 L 104.540794 648.918986 L 110.689215 644.052408 L 116.837636 639.458104 L 123.395951 634.832824 L 130.364162 630.203782 L 137.332372 625.843786 L 144.710478 621.495463 L 152.088583 617.399552 L 159.876583 613.326523 L 168.074478 609.293095 L 176.682267 605.313735 L 185.699951 601.400762 L 195.12753 597.564486 L 201.685846 595.036649 L 201.685846 595.036649 " clip-path="url(#pf0c5032784)" style="fill: none; stroke-dasharray: 4.5,1.5; stroke-dashoffset: 0; stroke: #cc78bc; stroke-width: 1.5"/>
   </g>
   <g id="line2d_157">
    <path d="M 58.566995 793 L 62.321636 785.825282 L 66.420583 778.414269 L 70.929425 770.73063 L 75.438267 763.498295 L 79.947109 756.680688 L 84.455951 750.244952 L 89.374688 743.624982 L 94.293425 737.389788 L 99.212162 731.508415 L 104.130899 725.953038 L 109.45953 720.273571 L 114.788162 714.918632 L 120.116794 709.862472 L 125.85532 704.72498 L 131.593846 699.881131 L 137.742267 694.99066 L 143.890688 690.384743 L 150.449004 685.759465 L 157.00732 681.406687 L 163.97553 677.055434 L 170.943741 672.962559 L 178.321846 668.886776 L 186.109846 664.847734 L 193.897846 661.055677 L 201.685846 657.489482 L 201.685846 657.489482 " clip-path="url(#pf0c5032784)" style="fill: none; stroke-dasharray: 3,1.5; stroke-dashoffset: 0; stroke: #cc78bc; stroke-width: 1.5"/>
   </g>
   <g id="patch_39">
    <path d="M 38.137846 761.794338 L 38.137846 538.785415 " style="fill: none; stroke: #000000; stroke-width: 0.8; stroke-linejoin: miter; stroke-linecap: square"/>
   </g>
   <g id="patch_40">
    <path d="M 201.685846 761.794338 L 201.685846 538.785415 " style="fill: none; stroke: #000000; stroke-width: 0.8; stroke-linejoin: miter; stroke-linecap: square"/>
   </g>
   <g id="patch_41">
    <path d="M 38.137846 761.794338 L 201.685846 761.794338 " style="fill: none; stroke: #000000; stroke-width: 0.8; stroke-linejoin: miter; stroke-linecap: square"/>
   </g>
   <g id="patch_42">
    <path d="M 38.137846 538.785415 L 201.685846 538.785415 " style="fill: none; stroke: #000000; stroke-width: 0.8; stroke-linejoin: miter; stroke-linecap: square"/>
   </g>
   <g id="legend_7">
    <g id="patch_43">
     <path d="M 45.137846 620.17604 L 105.523784 620.17604 Q 107.523784 620.17604 107.523784 618.17604 L 107.523784 545.785415 Q 107.523784 543.785415 105.523784 543.785415 L 45.137846 543.785415 Q 43.137846 543.785415 43.137846 545.785415 L 43.137846 618.17604 Q 43.137846 620.17604 45.137846 620.17604 z
" style="fill: #ffffff; opacity: 0.8; stroke: #cccccc; stroke-linejoin: miter"/>
    </g>
    <g id="line2d_158">
     <path d="M 47.137846 551.883853 L 57.137846 551.883853 L 67.137846 551.883853 " style="fill: none; stroke-dasharray: 6,4.5; stroke-dashoffset: 0; stroke: #949494; stroke-width: 1.5"/>
    </g>
    <g id="text_87">
     <text style="font-size: 10px; font-family: 'DejaVu Sans'; text-anchor: start" x="75.137846" y="555.383853" transform="rotate(-0 75.137846 555.383853)">O2(g)</text>
    </g>
    <g id="line2d_159">
     <path d="M 47.137846 566.561978 L 57.137846 566.561978 L 67.137846 566.561978 " style="fill: none; stroke-dasharray: 6,1.5; stroke-dashoffset: 0; stroke: #949494; stroke-width: 1.5"/>
    </g>
    <g id="text_88">
     <text style="font-size: 10px; font-family: 'DejaVu Sans'; text-anchor: start" x="75.137846" y="570.061978" transform="rotate(-0 75.137846 570.061978)">O(g)</text>
    </g>
    <g id="line2d_160">
     <path d="M 47.137846 581.240103 L 57.137846 581.240103 L 67.137846 581.240103 " style="fill: none; stroke: #cc78bc; stroke-width: 1.5"/>
    </g>
    <g id="text_89">
     <text style="font-size: 10px; font-family: 'DejaVu Sans'; text-anchor: start" x="75.137846" y="584.740103" transform="rotate(-0 75.137846 584.740103)">K(g)</text>
    </g>
    <g id="line2d_161">
     <path d="M 47.137846 595.918228 L 57.137846 595.918228 L 67.137846 595.918228 " style="fill: none; stroke-dasharray: 4.5,1.5; stroke-dashoffset: 0; stroke: #cc78bc; stroke-width: 1.5"/>
    </g>
    <g id="text_90">
     <text style="font-size: 10px; font-family: 'DejaVu Sans'; text-anchor: start" x="75.137846" y="599.418228" transform="rotate(-0 75.137846 599.418228)">KO(g)</text>
    </g>
    <g id="line2d_162">
     <path d="M 47.137846 610.596353 L 57.137846 610.596353 L 67.137846 610.596353 " style="fill: none; stroke-dasharray: 3,1.5; stroke-dashoffset: 0; stroke: #cc78bc; stroke-width: 1.5"/>
    </g>
    <g id="text_91">
     <text style="font-size: 10px; font-family: 'DejaVu Sans'; text-anchor: start" x="75.137846" y="614.096353" transform="rotate(-0 75.137846 614.096353)">K2(g)</text>
    </g>
   </g>
  </g>
  <g id="text_92">
   <text style="font-size: 10px; font-family: 'DejaVu Sans'; text-anchor: middle" x="316.495385" y="789.837231" transform="rotate(-0 316.495385 789.837231)">Temperature  [K]</text>
  </g>
  <g id="text_93">
   <text style="font-size: 10px; font-family: 'DejaVu Sans'; text-anchor: start" x="9.686769" y="446.688" transform="rotate(-90 9.686769 446.688)">log Partial Pressure [bars]</text>
  </g>
 </g>
 <defs>
  <clipPath id="p9adae56d40">
   <rect x="38.137846" y="3.564" width="163.548" height="223.008923"/>
  </clipPath>
  <clipPath id="p2d5f1d068a">
   <rect x="234.395446" y="3.564" width="163.548" height="223.008923"/>
  </clipPath>
  <clipPath id="pf8652af135">
   <rect x="430.653046" y="3.564" width="163.548" height="223.008923"/>
  </clipPath>
  <clipPath id="p085b95d1e8">
   <rect x="38.137846" y="271.174708" width="163.548" height="223.008923"/>
  </clipPath>
  <clipPath id="p2e2e2eaaee">
   <rect x="234.395446" y="271.174708" width="163.548" height="223.008923"/>
  </clipPath>
  <clipPath id="p6e4dde68d3">
   <rect x="430.653046" y="271.174708" width="163.548" height="223.008923"/>
  </clipPath>
  <clipPath id="pf0c5032784">
   <rect x="38.137846" y="538.785415" width="163.548" height="223.008923"/>
  </clipPath>
 </defs>
</svg>

</body></html>
